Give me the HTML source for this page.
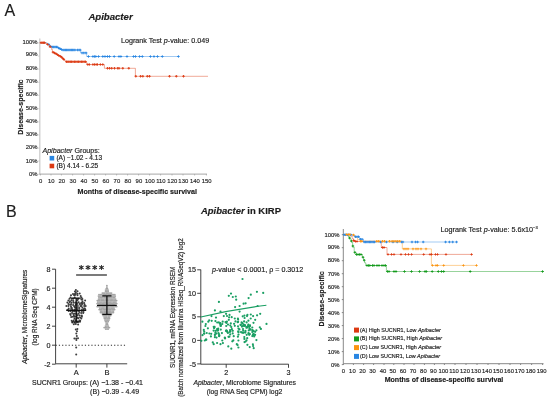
<!DOCTYPE html>
<html lang="en"><head><meta charset="utf-8"><title>Apibacter survival figure</title>
<style>html,body{margin:0;padding:0;background:#fff;}body{width:550px;height:401px;overflow:hidden;}svg{display:block;}text{font-family:"Liberation Sans", Arial, Helvetica, sans-serif;fill:#1c1c1c;stroke:#1c1c1c;stroke-width:0.16px;}.tk{font-size:5.92px;fill:#262626;stroke:#262626;}.b{font-weight:bold;}.i{font-style:italic;}.ax{stroke:#cbcbcb;stroke-width:1.25;fill:none;}.pax{stroke:#2e2e2e;stroke-width:0.9;fill:none;}</style></head><body>
<svg width="550" height="401" viewBox="0 0 550 401">
<rect width="550" height="401" fill="#fff"/>
<text x="4.4" y="15.8" font-size="16" fill="#111">A</text>
<text x="110.5" y="19.8" class="b i" font-size="9.6" text-anchor="middle">Apibacter</text>
<text x="121" y="42.8" font-size="7.17">Logrank Test <tspan class="i">p</tspan>-value: 0.049</text>
<path class="ax" d="M39.8 38.5V174.4"/>
<path d="M39.2 174.1H207" stroke="#a6a6a6" stroke-width="1" fill="none"/>
<path class="ax" d="M39.8 42.8h-1.4"/>
<text x="37.5" y="44.2" class="tk" text-anchor="end" >100%</text>
<path class="ax" d="M39.8 56.0h-1.4"/>
<text x="37.5" y="56.3" class="tk" text-anchor="end" >90%</text>
<path class="ax" d="M39.8 69.1h-1.4"/>
<text x="37.5" y="69.8" class="tk" text-anchor="end" >80%</text>
<path class="ax" d="M39.8 82.3h-1.4"/>
<text x="37.5" y="83.1" class="tk" text-anchor="end" >70%</text>
<path class="ax" d="M39.8 95.4h-1.4"/>
<text x="37.5" y="96.3" class="tk" text-anchor="end" >60%</text>
<path class="ax" d="M39.8 108.6h-1.4"/>
<text x="37.5" y="109.6" class="tk" text-anchor="end" >50%</text>
<path class="ax" d="M39.8 121.8h-1.4"/>
<text x="37.5" y="122.9" class="tk" text-anchor="end" >40%</text>
<path class="ax" d="M39.8 134.9h-1.4"/>
<text x="37.5" y="136.1" class="tk" text-anchor="end" >30%</text>
<path class="ax" d="M39.8 148.1h-1.4"/>
<text x="37.5" y="149.4" class="tk" text-anchor="end" >20%</text>
<path class="ax" d="M39.8 161.2h-1.4"/>
<text x="37.5" y="162.6" class="tk" text-anchor="end" >10%</text>
<path class="ax" d="M39.8 174.4h-1.4"/>
<text x="37.5" y="175.9" class="tk" text-anchor="end" >0%</text>
<path d="M40.4 174.1v1.3" stroke="#a6a6a6" stroke-width="0.9"/>
<text x="40.7" y="182.8" class="tk" text-anchor="middle" >0</text>
<path d="M51.0 174.1v1.3" stroke="#a6a6a6" stroke-width="0.9"/>
<text x="51.3" y="182.8" class="tk" text-anchor="middle" >10</text>
<path d="M61.4 174.1v1.3" stroke="#a6a6a6" stroke-width="0.9"/>
<text x="61.7" y="182.8" class="tk" text-anchor="middle" >20</text>
<path d="M72.6 174.1v1.3" stroke="#a6a6a6" stroke-width="0.9"/>
<text x="72.9" y="182.8" class="tk" text-anchor="middle" >30</text>
<path d="M83.6 174.1v1.3" stroke="#a6a6a6" stroke-width="0.9"/>
<text x="83.9" y="182.8" class="tk" text-anchor="middle" >40</text>
<path d="M94.6 174.1v1.3" stroke="#a6a6a6" stroke-width="0.9"/>
<text x="94.9" y="182.8" class="tk" text-anchor="middle" >50</text>
<path d="M105.6 174.1v1.3" stroke="#a6a6a6" stroke-width="0.9"/>
<text x="105.9" y="182.8" class="tk" text-anchor="middle" >60</text>
<path d="M116.6 174.1v1.3" stroke="#a6a6a6" stroke-width="0.9"/>
<text x="116.9" y="182.8" class="tk" text-anchor="middle" >70</text>
<path d="M127.6 174.1v1.3" stroke="#a6a6a6" stroke-width="0.9"/>
<text x="127.9" y="182.8" class="tk" text-anchor="middle" >80</text>
<path d="M138.6 174.1v1.3" stroke="#a6a6a6" stroke-width="0.9"/>
<text x="138.9" y="182.8" class="tk" text-anchor="middle" >90</text>
<path d="M149.6 174.1v1.3" stroke="#a6a6a6" stroke-width="0.9"/>
<text x="149.9" y="182.8" class="tk" text-anchor="middle" >100</text>
<path d="M160.6 174.1v1.3" stroke="#a6a6a6" stroke-width="0.9"/>
<text x="160.9" y="182.8" class="tk" text-anchor="middle" >110</text>
<path d="M172.0 174.1v1.3" stroke="#a6a6a6" stroke-width="0.9"/>
<text x="172.3" y="182.8" class="tk" text-anchor="middle" >120</text>
<path d="M183.0 174.1v1.3" stroke="#a6a6a6" stroke-width="0.9"/>
<text x="183.3" y="182.8" class="tk" text-anchor="middle" >130</text>
<path d="M194.6 174.1v1.3" stroke="#a6a6a6" stroke-width="0.9"/>
<text x="194.9" y="182.8" class="tk" text-anchor="middle" >140</text>
<path d="M206.4 174.1v1.3" stroke="#a6a6a6" stroke-width="0.9"/>
<text x="206.7" y="182.8" class="tk" text-anchor="middle" >150</text>
<text transform="translate(23.0,107.1) rotate(-90)" class="b" font-size="7.05" text-anchor="middle">Disease-specific</text>
<text x="137.2" y="193.7" class="b" font-size="7.1" text-anchor="middle">Months of disease-specific survival</text>
<text x="42.4" y="152.8" font-size="7.13"><tspan class="i">Apibacter</tspan> Groups:</text>
<rect x="49.6" y="155.9" width="4.6" height="4.6" fill="#2986e2"/>
<text x="56.4" y="160.2" font-size="6.55" >(A) −1.02 - 4.13</text>
<rect x="49.6" y="163.7" width="4.6" height="4.6" fill="#dc3912"/>
<text x="56.4" y="168.1" font-size="6.55" >(B) 4.14 - 6.25</text>
<path d="M40.1 42.8H47.0V43.4H48.2V44.2H49.3V45.2H50.3V46.1H51.3V46.9H57.3V47.5H59.4V48.3H60.8V49.2H62.2V50.0H80.7V52.9H86.7V56.5H178.9V56.5" fill="none" stroke="#2986e2" stroke-width="0.55" stroke-opacity="0.8"/>
<path d="M48.35 43.35L49.25 43.35L49.25 44.15L50.05 44.15L50.05 45.05L49.25 45.05L49.25 45.85L48.35 45.85L48.35 45.05L47.55 45.05L47.55 44.15L48.35 44.15zM47.80 44.60l1.00 -1.00l1.00 1.00l-1.00 1.00zM50.35 45.25L51.25 45.25L51.25 46.05L52.05 46.05L52.05 46.95L51.25 46.95L51.25 47.75L50.35 47.75L50.35 46.95L49.55 46.95L49.55 46.05L50.35 46.05zM49.80 46.50l1.00 -1.00l1.00 1.00l-1.00 1.00zM51.95 45.65L52.85 45.65L52.85 46.45L53.65 46.45L53.65 47.35L52.85 47.35L52.85 48.15L51.95 48.15L51.95 47.35L51.15 47.35L51.15 46.45L51.95 46.45zM51.40 46.90l1.00 -1.00l1.00 1.00l-1.00 1.00zM53.15 45.65L54.05 45.65L54.05 46.45L54.85 46.45L54.85 47.35L54.05 47.35L54.05 48.15L53.15 48.15L53.15 47.35L52.35 47.35L52.35 46.45L53.15 46.45zM52.60 46.90l1.00 -1.00l1.00 1.00l-1.00 1.00zM54.35 45.65L55.25 45.65L55.25 46.45L56.05 46.45L56.05 47.35L55.25 47.35L55.25 48.15L54.35 48.15L54.35 47.35L53.55 47.35L53.55 46.45L54.35 46.45zM53.80 46.90l1.00 -1.00l1.00 1.00l-1.00 1.00zM55.55 45.65L56.45 45.65L56.45 46.45L57.25 46.45L57.25 47.35L56.45 47.35L56.45 48.15L55.55 48.15L55.55 47.35L54.75 47.35L54.75 46.45L55.55 46.45zM55.00 46.90l1.00 -1.00l1.00 1.00l-1.00 1.00zM56.55 45.65L57.45 45.65L57.45 46.45L58.25 46.45L58.25 47.35L57.45 47.35L57.45 48.15L56.55 48.15L56.55 47.35L55.75 47.35L55.75 46.45L56.55 46.45zM56.00 46.90l1.00 -1.00l1.00 1.00l-1.00 1.00zM57.95 46.65L58.85 46.65L58.85 47.45L59.65 47.45L59.65 48.35L58.85 48.35L58.85 49.15L57.95 49.15L57.95 48.35L57.15 48.35L57.15 47.45L57.95 47.45zM57.40 47.90l1.00 -1.00l1.00 1.00l-1.00 1.00zM59.55 47.55L60.45 47.55L60.45 48.35L61.25 48.35L61.25 49.25L60.45 49.25L60.45 50.05L59.55 50.05L59.55 49.25L58.75 49.25L58.75 48.35L59.55 48.35zM59.00 48.80l1.00 -1.00l1.00 1.00l-1.00 1.00zM61.05 48.35L61.95 48.35L61.95 49.15L62.75 49.15L62.75 50.05L61.95 50.05L61.95 50.85L61.05 50.85L61.05 50.05L60.25 50.05L60.25 49.15L61.05 49.15zM60.50 49.60l1.00 -1.00l1.00 1.00l-1.00 1.00zM62.55 48.75L63.45 48.75L63.45 49.55L64.25 49.55L64.25 50.45L63.45 50.45L63.45 51.25L62.55 51.25L62.55 50.45L61.75 50.45L61.75 49.55L62.55 49.55zM62.00 50.00l1.00 -1.00l1.00 1.00l-1.00 1.00zM63.75 48.75L64.65 48.75L64.65 49.55L65.45 49.55L65.45 50.45L64.65 50.45L64.65 51.25L63.75 51.25L63.75 50.45L62.95 50.45L62.95 49.55L63.75 49.55zM63.20 50.00l1.00 -1.00l1.00 1.00l-1.00 1.00zM64.95 48.75L65.85 48.75L65.85 49.55L66.65 49.55L66.65 50.45L65.85 50.45L65.85 51.25L64.95 51.25L64.95 50.45L64.15 50.45L64.15 49.55L64.95 49.55zM64.40 50.00l1.00 -1.00l1.00 1.00l-1.00 1.00zM66.15 48.75L67.05 48.75L67.05 49.55L67.85 49.55L67.85 50.45L67.05 50.45L67.05 51.25L66.15 51.25L66.15 50.45L65.35 50.45L65.35 49.55L66.15 49.55zM65.60 50.00l1.00 -1.00l1.00 1.00l-1.00 1.00zM67.35 48.75L68.25 48.75L68.25 49.55L69.05 49.55L69.05 50.45L68.25 50.45L68.25 51.25L67.35 51.25L67.35 50.45L66.55 50.45L66.55 49.55L67.35 49.55zM66.80 50.00l1.00 -1.00l1.00 1.00l-1.00 1.00zM68.55 48.75L69.45 48.75L69.45 49.55L70.25 49.55L70.25 50.45L69.45 50.45L69.45 51.25L68.55 51.25L68.55 50.45L67.75 50.45L67.75 49.55L68.55 49.55zM68.00 50.00l1.00 -1.00l1.00 1.00l-1.00 1.00zM69.75 48.75L70.65 48.75L70.65 49.55L71.45 49.55L71.45 50.45L70.65 50.45L70.65 51.25L69.75 51.25L69.75 50.45L68.95 50.45L68.95 49.55L69.75 49.55zM69.20 50.00l1.00 -1.00l1.00 1.00l-1.00 1.00zM70.95 48.75L71.85 48.75L71.85 49.55L72.65 49.55L72.65 50.45L71.85 50.45L71.85 51.25L70.95 51.25L70.95 50.45L70.15 50.45L70.15 49.55L70.95 49.55zM70.40 50.00l1.00 -1.00l1.00 1.00l-1.00 1.00zM72.15 48.75L73.05 48.75L73.05 49.55L73.85 49.55L73.85 50.45L73.05 50.45L73.05 51.25L72.15 51.25L72.15 50.45L71.35 50.45L71.35 49.55L72.15 49.55zM71.60 50.00l1.00 -1.00l1.00 1.00l-1.00 1.00zM73.35 48.75L74.25 48.75L74.25 49.55L75.05 49.55L75.05 50.45L74.25 50.45L74.25 51.25L73.35 51.25L73.35 50.45L72.55 50.45L72.55 49.55L73.35 49.55zM72.80 50.00l1.00 -1.00l1.00 1.00l-1.00 1.00zM74.55 48.75L75.45 48.75L75.45 49.55L76.25 49.55L76.25 50.45L75.45 50.45L75.45 51.25L74.55 51.25L74.55 50.45L73.75 50.45L73.75 49.55L74.55 49.55zM74.00 50.00l1.00 -1.00l1.00 1.00l-1.00 1.00zM76.95 48.75L77.85 48.75L77.85 49.55L78.65 49.55L78.65 50.45L77.85 50.45L77.85 51.25L76.95 51.25L76.95 50.45L76.15 50.45L76.15 49.55L76.95 49.55zM76.40 50.00l1.00 -1.00l1.00 1.00l-1.00 1.00zM78.55 48.75L79.45 48.75L79.45 49.55L80.25 49.55L80.25 50.45L79.45 50.45L79.45 51.25L78.55 51.25L78.55 50.45L77.75 50.45L77.75 49.55L78.55 49.55zM78.00 50.00l1.00 -1.00l1.00 1.00l-1.00 1.00zM79.75 48.75L80.65 48.75L80.65 49.55L81.45 49.55L81.45 50.45L80.65 50.45L80.65 51.25L79.75 51.25L79.75 50.45L78.95 50.45L78.95 49.55L79.75 49.55zM79.20 50.00l1.00 -1.00l1.00 1.00l-1.00 1.00zM81.55 51.65L82.45 51.65L82.45 52.45L83.25 52.45L83.25 53.35L82.45 53.35L82.45 54.15L81.55 54.15L81.55 53.35L80.75 53.35L80.75 52.45L81.55 52.45zM81.00 52.90l1.00 -1.00l1.00 1.00l-1.00 1.00zM82.85 51.65L83.75 51.65L83.75 52.45L84.55 52.45L84.55 53.35L83.75 53.35L83.75 54.15L82.85 54.15L82.85 53.35L82.05 53.35L82.05 52.45L82.85 52.45zM82.30 52.90l1.00 -1.00l1.00 1.00l-1.00 1.00zM84.55 51.65L85.45 51.65L85.45 52.45L86.25 52.45L86.25 53.35L85.45 53.35L85.45 54.15L84.55 54.15L84.55 53.35L83.75 53.35L83.75 52.45L84.55 52.45zM84.00 52.90l1.00 -1.00l1.00 1.00l-1.00 1.00zM85.75 51.65L86.65 51.65L86.65 52.45L87.45 52.45L87.45 53.35L86.65 53.35L86.65 54.15L85.75 54.15L85.75 53.35L84.95 53.35L84.95 52.45L85.75 52.45zM85.20 52.90l1.00 -1.00l1.00 1.00l-1.00 1.00zM88.05 55.25L88.95 55.25L88.95 56.05L89.75 56.05L89.75 56.95L88.95 56.95L88.95 57.75L88.05 57.75L88.05 56.95L87.25 56.95L87.25 56.05L88.05 56.05zM87.50 56.50l1.00 -1.00l1.00 1.00l-1.00 1.00zM92.45 55.25L93.35 55.25L93.35 56.05L94.15 56.05L94.15 56.95L93.35 56.95L93.35 57.75L92.45 57.75L92.45 56.95L91.65 56.95L91.65 56.05L92.45 56.05zM91.90 56.50l1.00 -1.00l1.00 1.00l-1.00 1.00zM93.95 55.25L94.85 55.25L94.85 56.05L95.65 56.05L95.65 56.95L94.85 56.95L94.85 57.75L93.95 57.75L93.95 56.95L93.15 56.95L93.15 56.05L93.95 56.05zM93.40 56.50l1.00 -1.00l1.00 1.00l-1.00 1.00zM95.35 55.25L96.25 55.25L96.25 56.05L97.05 56.05L97.05 56.95L96.25 56.95L96.25 57.75L95.35 57.75L95.35 56.95L94.55 56.95L94.55 56.05L95.35 56.05zM94.80 56.50l1.00 -1.00l1.00 1.00l-1.00 1.00zM98.15 55.25L99.05 55.25L99.05 56.05L99.85 56.05L99.85 56.95L99.05 56.95L99.05 57.75L98.15 57.75L98.15 56.95L97.35 56.95L97.35 56.05L98.15 56.05zM97.60 56.50l1.00 -1.00l1.00 1.00l-1.00 1.00zM102.35 55.25L103.25 55.25L103.25 56.05L104.05 56.05L104.05 56.95L103.25 56.95L103.25 57.75L102.35 57.75L102.35 56.95L101.55 56.95L101.55 56.05L102.35 56.05zM101.80 56.50l1.00 -1.00l1.00 1.00l-1.00 1.00zM104.55 55.25L105.45 55.25L105.45 56.05L106.25 56.05L106.25 56.95L105.45 56.95L105.45 57.75L104.55 57.75L104.55 56.95L103.75 56.95L103.75 56.05L104.55 56.05zM104.00 56.50l1.00 -1.00l1.00 1.00l-1.00 1.00zM107.05 55.25L107.95 55.25L107.95 56.05L108.75 56.05L108.75 56.95L107.95 56.95L107.95 57.75L107.05 57.75L107.05 56.95L106.25 56.95L106.25 56.05L107.05 56.05zM106.50 56.50l1.00 -1.00l1.00 1.00l-1.00 1.00zM109.05 55.25L109.95 55.25L109.95 56.05L110.75 56.05L110.75 56.95L109.95 56.95L109.95 57.75L109.05 57.75L109.05 56.95L108.25 56.95L108.25 56.05L109.05 56.05zM108.50 56.50l1.00 -1.00l1.00 1.00l-1.00 1.00zM113.75 55.25L114.65 55.25L114.65 56.05L115.45 56.05L115.45 56.95L114.65 56.95L114.65 57.75L113.75 57.75L113.75 56.95L112.95 56.95L112.95 56.05L113.75 56.05zM113.20 56.50l1.00 -1.00l1.00 1.00l-1.00 1.00zM118.55 55.25L119.45 55.25L119.45 56.05L120.25 56.05L120.25 56.95L119.45 56.95L119.45 57.75L118.55 57.75L118.55 56.95L117.75 56.95L117.75 56.05L118.55 56.05zM118.00 56.50l1.00 -1.00l1.00 1.00l-1.00 1.00zM120.45 55.25L121.35 55.25L121.35 56.05L122.15 56.05L122.15 56.95L121.35 56.95L121.35 57.75L120.45 57.75L120.45 56.95L119.65 56.95L119.65 56.05L120.45 56.05zM119.90 56.50l1.00 -1.00l1.00 1.00l-1.00 1.00zM126.55 55.25L127.45 55.25L127.45 56.05L128.25 56.05L128.25 56.95L127.45 56.95L127.45 57.75L126.55 57.75L126.55 56.95L125.75 56.95L125.75 56.05L126.55 56.05zM126.00 56.50l1.00 -1.00l1.00 1.00l-1.00 1.00zM133.15 55.25L134.05 55.25L134.05 56.05L134.85 56.05L134.85 56.95L134.05 56.95L134.05 57.75L133.15 57.75L133.15 56.95L132.35 56.95L132.35 56.05L133.15 56.05zM132.60 56.50l1.00 -1.00l1.00 1.00l-1.00 1.00zM135.05 55.25L135.95 55.25L135.95 56.05L136.75 56.05L136.75 56.95L135.95 56.95L135.95 57.75L135.05 57.75L135.05 56.95L134.25 56.95L134.25 56.05L135.05 56.05zM134.50 56.50l1.00 -1.00l1.00 1.00l-1.00 1.00zM139.15 55.25L140.05 55.25L140.05 56.05L140.85 56.05L140.85 56.95L140.05 56.95L140.05 57.75L139.15 57.75L139.15 56.95L138.35 56.95L138.35 56.05L139.15 56.05zM138.60 56.50l1.00 -1.00l1.00 1.00l-1.00 1.00zM141.85 55.25L142.75 55.25L142.75 56.05L143.55 56.05L143.55 56.95L142.75 56.95L142.75 57.75L141.85 57.75L141.85 56.95L141.05 56.95L141.05 56.05L141.85 56.05zM141.30 56.50l1.00 -1.00l1.00 1.00l-1.00 1.00zM149.95 55.25L150.85 55.25L150.85 56.05L151.65 56.05L151.65 56.95L150.85 56.95L150.85 57.75L149.95 57.75L149.95 56.95L149.15 56.95L149.15 56.05L149.95 56.05zM149.40 56.50l1.00 -1.00l1.00 1.00l-1.00 1.00zM153.55 55.25L154.45 55.25L154.45 56.05L155.25 56.05L155.25 56.95L154.45 56.95L154.45 57.75L153.55 57.75L153.55 56.95L152.75 56.95L152.75 56.05L153.55 56.05zM153.00 56.50l1.00 -1.00l1.00 1.00l-1.00 1.00zM157.05 55.25L157.95 55.25L157.95 56.05L158.75 56.05L158.75 56.95L157.95 56.95L157.95 57.75L157.05 57.75L157.05 56.95L156.25 56.95L156.25 56.05L157.05 56.05zM156.50 56.50l1.00 -1.00l1.00 1.00l-1.00 1.00zM161.85 55.25L162.75 55.25L162.75 56.05L163.55 56.05L163.55 56.95L162.75 56.95L162.75 57.75L161.85 57.75L161.85 56.95L161.05 56.95L161.05 56.05L161.85 56.05zM161.30 56.50l1.00 -1.00l1.00 1.00l-1.00 1.00zM177.95 55.25L178.85 55.25L178.85 56.05L179.65 56.05L179.65 56.95L178.85 56.95L178.85 57.75L177.95 57.75L177.95 56.95L177.15 56.95L177.15 56.05L177.95 56.05zM177.40 56.50l1.00 -1.00l1.00 1.00l-1.00 1.00z" fill="#2986e2" stroke="none"/>
<path d="M40.1 42.8H45.3V43.3H46.8V44.0H48.0V44.8H49.4V46.0H50.7V47.5H51.6V49.5H52.4V51.8H53.8V52.6H55.1V53.4H56.5V54.2H57.8V55.1H59.5V55.9H61.1V56.7H62.2V57.8H63.3V58.9H64.4V60.4H65.4V61.8H86.7V64.6H104.4V68.3H135.4V76.3H208.0V76.3" fill="none" stroke="#dc3912" stroke-width="0.55" stroke-opacity="0.8"/>
<path d="M40.55 41.55L41.45 41.55L41.45 42.35L42.25 42.35L42.25 43.25L41.45 43.25L41.45 44.05L40.55 44.05L40.55 43.25L39.75 43.25L39.75 42.35L40.55 42.35zM40.00 42.80l1.00 -1.00l1.00 1.00l-1.00 1.00zM41.75 41.55L42.65 41.55L42.65 42.35L43.45 42.35L43.45 43.25L42.65 43.25L42.65 44.05L41.75 44.05L41.75 43.25L40.95 43.25L40.95 42.35L41.75 42.35zM41.20 42.80l1.00 -1.00l1.00 1.00l-1.00 1.00zM42.95 41.55L43.85 41.55L43.85 42.35L44.65 42.35L44.65 43.25L43.85 43.25L43.85 44.05L42.95 44.05L42.95 43.25L42.15 43.25L42.15 42.35L42.95 42.35zM42.40 42.80l1.00 -1.00l1.00 1.00l-1.00 1.00zM44.15 41.55L45.05 41.55L45.05 42.35L45.85 42.35L45.85 43.25L45.05 43.25L45.05 44.05L44.15 44.05L44.15 43.25L43.35 43.25L43.35 42.35L44.15 42.35zM43.60 42.80l1.00 -1.00l1.00 1.00l-1.00 1.00zM46.95 43.15L47.85 43.15L47.85 43.95L48.65 43.95L48.65 44.85L47.85 44.85L47.85 45.65L46.95 45.65L46.95 44.85L46.15 44.85L46.15 43.95L46.95 43.95zM46.40 44.40l1.00 -1.00l1.00 1.00l-1.00 1.00zM49.55 45.45L50.45 45.45L50.45 46.25L51.25 46.25L51.25 47.15L50.45 47.15L50.45 47.95L49.55 47.95L49.55 47.15L48.75 47.15L48.75 46.25L49.55 46.25zM49.00 46.70l1.00 -1.00l1.00 1.00l-1.00 1.00zM52.55 50.95L53.45 50.95L53.45 51.75L54.25 51.75L54.25 52.65L53.45 52.65L53.45 53.45L52.55 53.45L52.55 52.65L51.75 52.65L51.75 51.75L52.55 51.75zM52.00 52.20l1.00 -1.00l1.00 1.00l-1.00 1.00zM54.05 51.75L54.95 51.75L54.95 52.55L55.75 52.55L55.75 53.45L54.95 53.45L54.95 54.25L54.05 54.25L54.05 53.45L53.25 53.45L53.25 52.55L54.05 52.55zM53.50 53.00l1.00 -1.00l1.00 1.00l-1.00 1.00zM55.55 52.55L56.45 52.55L56.45 53.35L57.25 53.35L57.25 54.25L56.45 54.25L56.45 55.05L55.55 55.05L55.55 54.25L54.75 54.25L54.75 53.35L55.55 53.35zM55.00 53.80l1.00 -1.00l1.00 1.00l-1.00 1.00zM56.75 53.35L57.65 53.35L57.65 54.15L58.45 54.15L58.45 55.05L57.65 55.05L57.65 55.85L56.75 55.85L56.75 55.05L55.95 55.05L55.95 54.15L56.75 54.15zM56.20 54.60l1.00 -1.00l1.00 1.00l-1.00 1.00zM58.15 54.25L59.05 54.25L59.05 55.05L59.85 55.05L59.85 55.95L59.05 55.95L59.05 56.75L58.15 56.75L58.15 55.95L57.35 55.95L57.35 55.05L58.15 55.05zM57.60 55.50l1.00 -1.00l1.00 1.00l-1.00 1.00zM59.75 55.05L60.65 55.05L60.65 55.85L61.45 55.85L61.45 56.75L60.65 56.75L60.65 57.55L59.75 57.55L59.75 56.75L58.95 56.75L58.95 55.85L59.75 55.85zM59.20 56.30l1.00 -1.00l1.00 1.00l-1.00 1.00zM61.15 55.95L62.05 55.95L62.05 56.75L62.85 56.75L62.85 57.65L62.05 57.65L62.05 58.45L61.15 58.45L61.15 57.65L60.35 57.65L60.35 56.75L61.15 56.75zM60.60 57.20l1.00 -1.00l1.00 1.00l-1.00 1.00zM62.35 57.15L63.25 57.15L63.25 57.95L64.05 57.95L64.05 58.85L63.25 58.85L63.25 59.65L62.35 59.65L62.35 58.85L61.55 58.85L61.55 57.95L62.35 57.95zM61.80 58.40l1.00 -1.00l1.00 1.00l-1.00 1.00zM63.45 58.35L64.35 58.35L64.35 59.15L65.15 59.15L65.15 60.05L64.35 60.05L64.35 60.85L63.45 60.85L63.45 60.05L62.65 60.05L62.65 59.15L63.45 59.15zM62.90 59.60l1.00 -1.00l1.00 1.00l-1.00 1.00zM66.05 60.55L66.95 60.55L66.95 61.35L67.75 61.35L67.75 62.25L66.95 62.25L66.95 63.05L66.05 63.05L66.05 62.25L65.25 62.25L65.25 61.35L66.05 61.35zM65.50 61.80l1.00 -1.00l1.00 1.00l-1.00 1.00zM67.35 60.55L68.25 60.55L68.25 61.35L69.05 61.35L69.05 62.25L68.25 62.25L68.25 63.05L67.35 63.05L67.35 62.25L66.55 62.25L66.55 61.35L67.35 61.35zM66.80 61.80l1.00 -1.00l1.00 1.00l-1.00 1.00zM68.55 60.55L69.45 60.55L69.45 61.35L70.25 61.35L70.25 62.25L69.45 62.25L69.45 63.05L68.55 63.05L68.55 62.25L67.75 62.25L67.75 61.35L68.55 61.35zM68.00 61.80l1.00 -1.00l1.00 1.00l-1.00 1.00zM69.85 60.55L70.75 60.55L70.75 61.35L71.55 61.35L71.55 62.25L70.75 62.25L70.75 63.05L69.85 63.05L69.85 62.25L69.05 62.25L69.05 61.35L69.85 61.35zM69.30 61.80l1.00 -1.00l1.00 1.00l-1.00 1.00zM71.15 60.55L72.05 60.55L72.05 61.35L72.85 61.35L72.85 62.25L72.05 62.25L72.05 63.05L71.15 63.05L71.15 62.25L70.35 62.25L70.35 61.35L71.15 61.35zM70.60 61.80l1.00 -1.00l1.00 1.00l-1.00 1.00zM72.55 60.55L73.45 60.55L73.45 61.35L74.25 61.35L74.25 62.25L73.45 62.25L73.45 63.05L72.55 63.05L72.55 62.25L71.75 62.25L71.75 61.35L72.55 61.35zM72.00 61.80l1.00 -1.00l1.00 1.00l-1.00 1.00zM73.95 60.55L74.85 60.55L74.85 61.35L75.65 61.35L75.65 62.25L74.85 62.25L74.85 63.05L73.95 63.05L73.95 62.25L73.15 62.25L73.15 61.35L73.95 61.35zM73.40 61.80l1.00 -1.00l1.00 1.00l-1.00 1.00zM75.35 60.55L76.25 60.55L76.25 61.35L77.05 61.35L77.05 62.25L76.25 62.25L76.25 63.05L75.35 63.05L75.35 62.25L74.55 62.25L74.55 61.35L75.35 61.35zM74.80 61.80l1.00 -1.00l1.00 1.00l-1.00 1.00zM76.75 60.55L77.65 60.55L77.65 61.35L78.45 61.35L78.45 62.25L77.65 62.25L77.65 63.05L76.75 63.05L76.75 62.25L75.95 62.25L75.95 61.35L76.75 61.35zM76.20 61.80l1.00 -1.00l1.00 1.00l-1.00 1.00zM78.15 60.55L79.05 60.55L79.05 61.35L79.85 61.35L79.85 62.25L79.05 62.25L79.05 63.05L78.15 63.05L78.15 62.25L77.35 62.25L77.35 61.35L78.15 61.35zM77.60 61.80l1.00 -1.00l1.00 1.00l-1.00 1.00zM79.55 60.55L80.45 60.55L80.45 61.35L81.25 61.35L81.25 62.25L80.45 62.25L80.45 63.05L79.55 63.05L79.55 62.25L78.75 62.25L78.75 61.35L79.55 61.35zM79.00 61.80l1.00 -1.00l1.00 1.00l-1.00 1.00zM80.95 60.55L81.85 60.55L81.85 61.35L82.65 61.35L82.65 62.25L81.85 62.25L81.85 63.05L80.95 63.05L80.95 62.25L80.15 62.25L80.15 61.35L80.95 61.35zM80.40 61.80l1.00 -1.00l1.00 1.00l-1.00 1.00zM82.35 60.55L83.25 60.55L83.25 61.35L84.05 61.35L84.05 62.25L83.25 62.25L83.25 63.05L82.35 63.05L82.35 62.25L81.55 62.25L81.55 61.35L82.35 61.35zM81.80 61.80l1.00 -1.00l1.00 1.00l-1.00 1.00zM83.75 60.55L84.65 60.55L84.65 61.35L85.45 61.35L85.45 62.25L84.65 62.25L84.65 63.05L83.75 63.05L83.75 62.25L82.95 62.25L82.95 61.35L83.75 61.35zM83.20 61.80l1.00 -1.00l1.00 1.00l-1.00 1.00zM85.15 60.55L86.05 60.55L86.05 61.35L86.85 61.35L86.85 62.25L86.05 62.25L86.05 63.05L85.15 63.05L85.15 62.25L84.35 62.25L84.35 61.35L85.15 61.35zM84.60 61.80l1.00 -1.00l1.00 1.00l-1.00 1.00zM87.35 63.35L88.25 63.35L88.25 64.15L89.05 64.15L89.05 65.05L88.25 65.05L88.25 65.85L87.35 65.85L87.35 65.05L86.55 65.05L86.55 64.15L87.35 64.15zM86.80 64.60l1.00 -1.00l1.00 1.00l-1.00 1.00zM88.85 63.35L89.75 63.35L89.75 64.15L90.55 64.15L90.55 65.05L89.75 65.05L89.75 65.85L88.85 65.85L88.85 65.05L88.05 65.05L88.05 64.15L88.85 64.15zM88.30 64.60l1.00 -1.00l1.00 1.00l-1.00 1.00zM92.45 63.35L93.35 63.35L93.35 64.15L94.15 64.15L94.15 65.05L93.35 65.05L93.35 65.85L92.45 65.85L92.45 65.05L91.65 65.05L91.65 64.15L92.45 64.15zM91.90 64.60l1.00 -1.00l1.00 1.00l-1.00 1.00zM93.95 63.35L94.85 63.35L94.85 64.15L95.65 64.15L95.65 65.05L94.85 65.05L94.85 65.85L93.95 65.85L93.95 65.05L93.15 65.05L93.15 64.15L93.95 64.15zM93.40 64.60l1.00 -1.00l1.00 1.00l-1.00 1.00zM95.65 63.35L96.55 63.35L96.55 64.15L97.35 64.15L97.35 65.05L96.55 65.05L96.55 65.85L95.65 65.85L95.65 65.05L94.85 65.05L94.85 64.15L95.65 64.15zM95.10 64.60l1.00 -1.00l1.00 1.00l-1.00 1.00zM96.95 63.35L97.85 63.35L97.85 64.15L98.65 64.15L98.65 65.05L97.85 65.05L97.85 65.85L96.95 65.85L96.95 65.05L96.15 65.05L96.15 64.15L96.95 64.15zM96.40 64.60l1.00 -1.00l1.00 1.00l-1.00 1.00zM99.85 63.35L100.75 63.35L100.75 64.15L101.55 64.15L101.55 65.05L100.75 65.05L100.75 65.85L99.85 65.85L99.85 65.05L99.05 65.05L99.05 64.15L99.85 64.15zM99.30 64.60l1.00 -1.00l1.00 1.00l-1.00 1.00zM102.35 63.35L103.25 63.35L103.25 64.15L104.05 64.15L104.05 65.05L103.25 65.05L103.25 65.85L102.35 65.85L102.35 65.05L101.55 65.05L101.55 64.15L102.35 64.15zM101.80 64.60l1.00 -1.00l1.00 1.00l-1.00 1.00zM107.05 67.05L107.95 67.05L107.95 67.85L108.75 67.85L108.75 68.75L107.95 68.75L107.95 69.55L107.05 69.55L107.05 68.75L106.25 68.75L106.25 67.85L107.05 67.85zM106.50 68.30l1.00 -1.00l1.00 1.00l-1.00 1.00zM109.05 67.05L109.95 67.05L109.95 67.85L110.75 67.85L110.75 68.75L109.95 68.75L109.95 69.55L109.05 69.55L109.05 68.75L108.25 68.75L108.25 67.85L109.05 67.85zM108.50 68.30l1.00 -1.00l1.00 1.00l-1.00 1.00zM111.25 67.05L112.15 67.05L112.15 67.85L112.95 67.85L112.95 68.75L112.15 68.75L112.15 69.55L111.25 69.55L111.25 68.75L110.45 68.75L110.45 67.85L111.25 67.85zM110.70 68.30l1.00 -1.00l1.00 1.00l-1.00 1.00zM114.05 67.05L114.95 67.05L114.95 67.85L115.75 67.85L115.75 68.75L114.95 68.75L114.95 69.55L114.05 69.55L114.05 68.75L113.25 68.75L113.25 67.85L114.05 67.85zM113.50 68.30l1.00 -1.00l1.00 1.00l-1.00 1.00zM117.25 67.05L118.15 67.05L118.15 67.85L118.95 67.85L118.95 68.75L118.15 68.75L118.15 69.55L117.25 69.55L117.25 68.75L116.45 68.75L116.45 67.85L117.25 67.85zM116.70 68.30l1.00 -1.00l1.00 1.00l-1.00 1.00zM118.55 67.05L119.45 67.05L119.45 67.85L120.25 67.85L120.25 68.75L119.45 68.75L119.45 69.55L118.55 69.55L118.55 68.75L117.75 68.75L117.75 67.85L118.55 67.85zM118.00 68.30l1.00 -1.00l1.00 1.00l-1.00 1.00zM122.35 67.05L123.25 67.05L123.25 67.85L124.05 67.85L124.05 68.75L123.25 68.75L123.25 69.55L122.35 69.55L122.35 68.75L121.55 68.75L121.55 67.85L122.35 67.85zM121.80 68.30l1.00 -1.00l1.00 1.00l-1.00 1.00zM128.35 67.05L129.25 67.05L129.25 67.85L130.05 67.85L130.05 68.75L129.25 68.75L129.25 69.55L128.35 69.55L128.35 68.75L127.55 68.75L127.55 67.85L128.35 67.85zM127.80 68.30l1.00 -1.00l1.00 1.00l-1.00 1.00zM135.35 75.05L136.25 75.05L136.25 75.85L137.05 75.85L137.05 76.75L136.25 76.75L136.25 77.55L135.35 77.55L135.35 76.75L134.55 76.75L134.55 75.85L135.35 75.85zM134.80 76.30l1.00 -1.00l1.00 1.00l-1.00 1.00zM140.15 75.05L141.05 75.05L141.05 75.85L141.85 75.85L141.85 76.75L141.05 76.75L141.05 77.55L140.15 77.55L140.15 76.75L139.35 76.75L139.35 75.85L140.15 75.85zM139.60 76.30l1.00 -1.00l1.00 1.00l-1.00 1.00zM142.35 75.05L143.25 75.05L143.25 75.85L144.05 75.85L144.05 76.75L143.25 76.75L143.25 77.55L142.35 77.55L142.35 76.75L141.55 76.75L141.55 75.85L142.35 75.85zM141.80 76.30l1.00 -1.00l1.00 1.00l-1.00 1.00zM146.85 75.05L147.75 75.05L147.75 75.85L148.55 75.85L148.55 76.75L147.75 76.75L147.75 77.55L146.85 77.55L146.85 76.75L146.05 76.75L146.05 75.85L146.85 75.85zM146.30 76.30l1.00 -1.00l1.00 1.00l-1.00 1.00zM149.05 75.05L149.95 75.05L149.95 75.85L150.75 75.85L150.75 76.75L149.95 76.75L149.95 77.55L149.05 77.55L149.05 76.75L148.25 76.75L148.25 75.85L149.05 75.85zM148.50 76.30l1.00 -1.00l1.00 1.00l-1.00 1.00zM169.05 75.05L169.95 75.05L169.95 75.85L170.75 75.85L170.75 76.75L169.95 76.75L169.95 77.55L169.05 77.55L169.05 76.75L168.25 76.75L168.25 75.85L169.05 75.85zM168.50 76.30l1.00 -1.00l1.00 1.00l-1.00 1.00zM175.85 75.05L176.75 75.05L176.75 75.85L177.55 75.85L177.55 76.75L176.75 76.75L176.75 77.55L175.85 77.55L175.85 76.75L175.05 76.75L175.05 75.85L175.85 75.85zM175.30 76.30l1.00 -1.00l1.00 1.00l-1.00 1.00zM183.05 75.05L183.95 75.05L183.95 75.85L184.75 75.85L184.75 76.75L183.95 76.75L183.95 77.55L183.05 77.55L183.05 76.75L182.25 76.75L182.25 75.85L183.05 75.85zM182.50 76.30l1.00 -1.00l1.00 1.00l-1.00 1.00z" fill="#dc3912" stroke="none"/>
<text x="6.1" y="216.6" font-size="16" fill="#111">B</text>
<text x="241.0" y="213.9" class="b" font-size="9.48" text-anchor="middle"><tspan class="i">Apibacter</tspan> in KIRP</text>
<path class="pax" d="M55.6 269.2V363.8H127.2"/>
<path class="pax" d="M55.6 269.2h-3.6"/>
<text x="50.6" y="271.8" font-size="7.2" text-anchor="end" >8</text>
<path class="pax" d="M55.6 288.2h-3.6"/>
<text x="50.6" y="290.8" font-size="7.2" text-anchor="end" >6</text>
<path class="pax" d="M55.6 307.2h-3.6"/>
<text x="50.6" y="309.8" font-size="7.2" text-anchor="end" >4</text>
<path class="pax" d="M55.6 326.2h-3.6"/>
<text x="50.6" y="328.8" font-size="7.2" text-anchor="end" >2</text>
<path class="pax" d="M55.6 345.2h-3.6"/>
<text x="50.6" y="347.8" font-size="7.2" text-anchor="end" >0</text>
<path class="pax" d="M55.6 364.2h-3.6"/>
<text x="50.6" y="366.8" font-size="7.2" text-anchor="end" >-2</text>
<path class="pax" d="M76.2 363.8v3.8"/>
<path class="pax" d="M106.9 363.8v3.8"/>
<text x="76.2" y="375.3" font-size="7.5" text-anchor="middle" >A</text>
<text x="106.9" y="375.3" font-size="7.5" text-anchor="middle" >B</text>
<path d="M55.6 345.2H127" stroke="#2e2e2e" stroke-width="1.15" stroke-dasharray="1.2 2.05" fill="none"/>
<g fill="#a4a4a4"><circle cx="106.9" cy="285.6" r="0.93"/><circle cx="106.9" cy="287.1" r="0.93"/><circle cx="106.3" cy="288.6" r="0.93"/><circle cx="107.4" cy="288.6" r="0.93"/><circle cx="105.6" cy="290.1" r="0.93"/><circle cx="106.9" cy="290.1" r="0.93"/><circle cx="108.1" cy="290.1" r="0.93"/><circle cx="105.6" cy="291.6" r="0.93"/><circle cx="106.8" cy="291.6" r="0.93"/><circle cx="108.1" cy="291.6" r="0.93"/><circle cx="102.4" cy="293.1" r="0.93"/><circle cx="103.7" cy="293.1" r="0.93"/><circle cx="104.8" cy="293.1" r="0.93"/><circle cx="106.3" cy="293.1" r="0.93"/><circle cx="107.6" cy="293.1" r="0.93"/><circle cx="108.9" cy="293.1" r="0.93"/><circle cx="110.2" cy="293.1" r="0.93"/><circle cx="111.5" cy="293.1" r="0.93"/><circle cx="99.0" cy="294.6" r="0.93"/><circle cx="100.3" cy="294.6" r="0.93"/><circle cx="101.7" cy="294.6" r="0.93"/><circle cx="103.1" cy="294.6" r="0.93"/><circle cx="104.3" cy="294.6" r="0.93"/><circle cx="105.7" cy="294.6" r="0.93"/><circle cx="106.9" cy="294.6" r="0.93"/><circle cx="108.2" cy="294.6" r="0.93"/><circle cx="109.4" cy="294.6" r="0.93"/><circle cx="110.7" cy="294.6" r="0.93"/><circle cx="112.0" cy="294.6" r="0.93"/><circle cx="113.3" cy="294.6" r="0.93"/><circle cx="114.8" cy="294.6" r="0.93"/><circle cx="98.5" cy="296.1" r="0.93"/><circle cx="99.8" cy="296.1" r="0.93"/><circle cx="101.0" cy="296.1" r="0.93"/><circle cx="102.3" cy="296.1" r="0.93"/><circle cx="103.6" cy="296.1" r="0.93"/><circle cx="104.9" cy="296.1" r="0.93"/><circle cx="106.2" cy="296.1" r="0.93"/><circle cx="107.6" cy="296.1" r="0.93"/><circle cx="108.9" cy="296.1" r="0.93"/><circle cx="110.2" cy="296.1" r="0.93"/><circle cx="111.4" cy="296.1" r="0.93"/><circle cx="112.8" cy="296.1" r="0.93"/><circle cx="114.0" cy="296.1" r="0.93"/><circle cx="115.2" cy="296.1" r="0.93"/><circle cx="99.0" cy="297.6" r="0.93"/><circle cx="100.5" cy="297.6" r="0.93"/><circle cx="101.6" cy="297.6" r="0.93"/><circle cx="102.9" cy="297.6" r="0.93"/><circle cx="104.3" cy="297.6" r="0.93"/><circle cx="105.5" cy="297.6" r="0.93"/><circle cx="107.0" cy="297.6" r="0.93"/><circle cx="108.3" cy="297.6" r="0.93"/><circle cx="109.5" cy="297.6" r="0.93"/><circle cx="110.9" cy="297.6" r="0.93"/><circle cx="112.0" cy="297.6" r="0.93"/><circle cx="113.5" cy="297.6" r="0.93"/><circle cx="114.7" cy="297.6" r="0.93"/><circle cx="98.6" cy="299.1" r="0.93"/><circle cx="99.8" cy="299.1" r="0.93"/><circle cx="101.1" cy="299.1" r="0.93"/><circle cx="102.2" cy="299.1" r="0.93"/><circle cx="103.7" cy="299.1" r="0.93"/><circle cx="105.1" cy="299.1" r="0.93"/><circle cx="106.2" cy="299.1" r="0.93"/><circle cx="107.5" cy="299.1" r="0.93"/><circle cx="108.9" cy="299.1" r="0.93"/><circle cx="110.2" cy="299.1" r="0.93"/><circle cx="111.5" cy="299.1" r="0.93"/><circle cx="112.8" cy="299.1" r="0.93"/><circle cx="114.1" cy="299.1" r="0.93"/><circle cx="115.5" cy="299.1" r="0.93"/><circle cx="97.3" cy="300.6" r="0.93"/><circle cx="98.4" cy="300.6" r="0.93"/><circle cx="99.8" cy="300.6" r="0.93"/><circle cx="101.2" cy="300.6" r="0.93"/><circle cx="102.4" cy="300.6" r="0.93"/><circle cx="103.8" cy="300.6" r="0.93"/><circle cx="105.1" cy="300.6" r="0.93"/><circle cx="106.3" cy="300.6" r="0.93"/><circle cx="107.5" cy="300.6" r="0.93"/><circle cx="108.8" cy="300.6" r="0.93"/><circle cx="110.2" cy="300.6" r="0.93"/><circle cx="111.5" cy="300.6" r="0.93"/><circle cx="112.9" cy="300.6" r="0.93"/><circle cx="114.1" cy="300.6" r="0.93"/><circle cx="115.3" cy="300.6" r="0.93"/><circle cx="116.6" cy="300.6" r="0.93"/><circle cx="97.8" cy="302.1" r="0.93"/><circle cx="99.1" cy="302.1" r="0.93"/><circle cx="100.4" cy="302.1" r="0.93"/><circle cx="101.8" cy="302.1" r="0.93"/><circle cx="103.1" cy="302.1" r="0.93"/><circle cx="104.3" cy="302.1" r="0.93"/><circle cx="105.6" cy="302.1" r="0.93"/><circle cx="106.9" cy="302.1" r="0.93"/><circle cx="108.3" cy="302.1" r="0.93"/><circle cx="109.5" cy="302.1" r="0.93"/><circle cx="110.7" cy="302.1" r="0.93"/><circle cx="112.0" cy="302.1" r="0.93"/><circle cx="113.4" cy="302.1" r="0.93"/><circle cx="114.6" cy="302.1" r="0.93"/><circle cx="115.9" cy="302.1" r="0.93"/><circle cx="97.1" cy="303.6" r="0.93"/><circle cx="98.4" cy="303.6" r="0.93"/><circle cx="99.7" cy="303.6" r="0.93"/><circle cx="101.0" cy="303.6" r="0.93"/><circle cx="102.4" cy="303.6" r="0.93"/><circle cx="103.6" cy="303.6" r="0.93"/><circle cx="105.0" cy="303.6" r="0.93"/><circle cx="106.4" cy="303.6" r="0.93"/><circle cx="107.5" cy="303.6" r="0.93"/><circle cx="108.9" cy="303.6" r="0.93"/><circle cx="110.1" cy="303.6" r="0.93"/><circle cx="111.4" cy="303.6" r="0.93"/><circle cx="112.8" cy="303.6" r="0.93"/><circle cx="113.9" cy="303.6" r="0.93"/><circle cx="115.2" cy="303.6" r="0.93"/><circle cx="116.7" cy="303.6" r="0.93"/><circle cx="99.0" cy="305.1" r="0.93"/><circle cx="100.4" cy="305.1" r="0.93"/><circle cx="101.6" cy="305.1" r="0.93"/><circle cx="102.9" cy="305.1" r="0.93"/><circle cx="104.2" cy="305.1" r="0.93"/><circle cx="105.6" cy="305.1" r="0.93"/><circle cx="106.9" cy="305.1" r="0.93"/><circle cx="108.1" cy="305.1" r="0.93"/><circle cx="109.6" cy="305.1" r="0.93"/><circle cx="110.8" cy="305.1" r="0.93"/><circle cx="112.2" cy="305.1" r="0.93"/><circle cx="113.5" cy="305.1" r="0.93"/><circle cx="114.7" cy="305.1" r="0.93"/><circle cx="97.2" cy="306.6" r="0.93"/><circle cx="98.4" cy="306.6" r="0.93"/><circle cx="99.7" cy="306.6" r="0.93"/><circle cx="101.0" cy="306.6" r="0.93"/><circle cx="102.4" cy="306.6" r="0.93"/><circle cx="103.6" cy="306.6" r="0.93"/><circle cx="104.9" cy="306.6" r="0.93"/><circle cx="106.2" cy="306.6" r="0.93"/><circle cx="107.6" cy="306.6" r="0.93"/><circle cx="108.8" cy="306.6" r="0.93"/><circle cx="110.1" cy="306.6" r="0.93"/><circle cx="111.4" cy="306.6" r="0.93"/><circle cx="112.7" cy="306.6" r="0.93"/><circle cx="113.9" cy="306.6" r="0.93"/><circle cx="115.3" cy="306.6" r="0.93"/><circle cx="116.7" cy="306.6" r="0.93"/><circle cx="99.8" cy="308.1" r="0.93"/><circle cx="101.2" cy="308.1" r="0.93"/><circle cx="102.4" cy="308.1" r="0.93"/><circle cx="103.7" cy="308.1" r="0.93"/><circle cx="105.0" cy="308.1" r="0.93"/><circle cx="106.3" cy="308.1" r="0.93"/><circle cx="107.6" cy="308.1" r="0.93"/><circle cx="108.9" cy="308.1" r="0.93"/><circle cx="110.0" cy="308.1" r="0.93"/><circle cx="111.4" cy="308.1" r="0.93"/><circle cx="112.8" cy="308.1" r="0.93"/><circle cx="114.0" cy="308.1" r="0.93"/><circle cx="99.2" cy="309.6" r="0.93"/><circle cx="100.4" cy="309.6" r="0.93"/><circle cx="101.6" cy="309.6" r="0.93"/><circle cx="103.1" cy="309.6" r="0.93"/><circle cx="104.4" cy="309.6" r="0.93"/><circle cx="105.6" cy="309.6" r="0.93"/><circle cx="106.9" cy="309.6" r="0.93"/><circle cx="108.1" cy="309.6" r="0.93"/><circle cx="109.5" cy="309.6" r="0.93"/><circle cx="110.7" cy="309.6" r="0.93"/><circle cx="112.1" cy="309.6" r="0.93"/><circle cx="113.4" cy="309.6" r="0.93"/><circle cx="114.6" cy="309.6" r="0.93"/><circle cx="100.5" cy="311.1" r="0.93"/><circle cx="101.7" cy="311.1" r="0.93"/><circle cx="103.0" cy="311.1" r="0.93"/><circle cx="104.4" cy="311.1" r="0.93"/><circle cx="105.5" cy="311.1" r="0.93"/><circle cx="106.8" cy="311.1" r="0.93"/><circle cx="108.3" cy="311.1" r="0.93"/><circle cx="109.6" cy="311.1" r="0.93"/><circle cx="110.7" cy="311.1" r="0.93"/><circle cx="112.1" cy="311.1" r="0.93"/><circle cx="113.4" cy="311.1" r="0.93"/><circle cx="100.5" cy="312.6" r="0.93"/><circle cx="101.8" cy="312.6" r="0.93"/><circle cx="102.9" cy="312.6" r="0.93"/><circle cx="104.4" cy="312.6" r="0.93"/><circle cx="105.6" cy="312.6" r="0.93"/><circle cx="106.8" cy="312.6" r="0.93"/><circle cx="108.3" cy="312.6" r="0.93"/><circle cx="109.5" cy="312.6" r="0.93"/><circle cx="110.9" cy="312.6" r="0.93"/><circle cx="112.1" cy="312.6" r="0.93"/><circle cx="113.4" cy="312.6" r="0.93"/><circle cx="102.4" cy="314.1" r="0.93"/><circle cx="103.7" cy="314.1" r="0.93"/><circle cx="105.1" cy="314.1" r="0.93"/><circle cx="106.2" cy="314.1" r="0.93"/><circle cx="107.7" cy="314.1" r="0.93"/><circle cx="108.8" cy="314.1" r="0.93"/><circle cx="110.1" cy="314.1" r="0.93"/><circle cx="111.5" cy="314.1" r="0.93"/><circle cx="103.1" cy="315.6" r="0.93"/><circle cx="104.2" cy="315.6" r="0.93"/><circle cx="105.6" cy="315.6" r="0.93"/><circle cx="106.8" cy="315.6" r="0.93"/><circle cx="108.3" cy="315.6" r="0.93"/><circle cx="109.5" cy="315.6" r="0.93"/><circle cx="110.7" cy="315.6" r="0.93"/><circle cx="104.2" cy="317.1" r="0.93"/><circle cx="105.7" cy="317.1" r="0.93"/><circle cx="106.8" cy="317.1" r="0.93"/><circle cx="108.3" cy="317.1" r="0.93"/><circle cx="109.4" cy="317.1" r="0.93"/><circle cx="104.4" cy="318.6" r="0.93"/><circle cx="105.5" cy="318.6" r="0.93"/><circle cx="107.0" cy="318.6" r="0.93"/><circle cx="108.1" cy="318.6" r="0.93"/><circle cx="109.5" cy="318.6" r="0.93"/><circle cx="105.0" cy="320.1" r="0.93"/><circle cx="106.2" cy="320.1" r="0.93"/><circle cx="107.6" cy="320.1" r="0.93"/><circle cx="108.9" cy="320.1" r="0.93"/><circle cx="105.5" cy="321.6" r="0.93"/><circle cx="106.8" cy="321.6" r="0.93"/><circle cx="108.2" cy="321.6" r="0.93"/><circle cx="106.2" cy="323.1" r="0.93"/><circle cx="107.4" cy="323.1" r="0.93"/><circle cx="106.2" cy="324.6" r="0.93"/><circle cx="107.6" cy="324.6" r="0.93"/><circle cx="105.5" cy="326.1" r="0.93"/><circle cx="106.9" cy="326.1" r="0.93"/><circle cx="108.2" cy="326.1" r="0.93"/><circle cx="104.2" cy="327.6" r="0.93"/><circle cx="105.5" cy="327.6" r="0.93"/><circle cx="106.9" cy="327.6" r="0.93"/><circle cx="108.3" cy="327.6" r="0.93"/><circle cx="109.4" cy="327.6" r="0.93"/><circle cx="105.7" cy="329.1" r="0.93"/><circle cx="107.0" cy="329.1" r="0.93"/><circle cx="108.2" cy="329.1" r="0.93"/></g>
<g fill="#3a3a3a"><circle cx="75.9" cy="289.9" r="1.0"/><circle cx="74.9" cy="291.4" r="1.0"/><circle cx="75.9" cy="292.3" r="1.0"/><circle cx="77.5" cy="291.3" r="1.0"/><circle cx="73.0" cy="294.0" r="1.0"/><circle cx="74.9" cy="294.1" r="1.0"/><circle cx="75.8" cy="294.1" r="1.0"/><circle cx="77.5" cy="293.8" r="1.0"/><circle cx="79.7" cy="293.4" r="1.0"/><circle cx="71.0" cy="295.2" r="1.0"/><circle cx="74.0" cy="295.0" r="1.0"/><circle cx="74.9" cy="295.2" r="1.0"/><circle cx="77.5" cy="295.3" r="1.0"/><circle cx="80.7" cy="295.9" r="1.0"/><circle cx="70.5" cy="297.6" r="1.0"/><circle cx="74.7" cy="297.5" r="1.0"/><circle cx="81.5" cy="297.5" r="1.0"/><circle cx="69.5" cy="298.7" r="1.0"/><circle cx="71.7" cy="298.7" r="1.0"/><circle cx="73.2" cy="298.8" r="1.0"/><circle cx="77.6" cy="299.1" r="1.0"/><circle cx="78.4" cy="298.7" r="1.0"/><circle cx="81.4" cy="299.5" r="1.0"/><circle cx="82.4" cy="298.9" r="1.0"/><circle cx="68.4" cy="300.5" r="1.0"/><circle cx="70.0" cy="301.2" r="1.0"/><circle cx="71.7" cy="300.6" r="1.0"/><circle cx="73.3" cy="301.1" r="1.0"/><circle cx="77.4" cy="300.5" r="1.0"/><circle cx="82.5" cy="301.3" r="1.0"/><circle cx="85.1" cy="300.5" r="1.0"/><circle cx="67.4" cy="302.6" r="1.0"/><circle cx="69.7" cy="302.3" r="1.0"/><circle cx="71.7" cy="302.8" r="1.0"/><circle cx="73.8" cy="302.8" r="1.0"/><circle cx="75.7" cy="302.4" r="1.0"/><circle cx="77.0" cy="302.9" r="1.0"/><circle cx="78.7" cy="302.3" r="1.0"/><circle cx="81.3" cy="302.7" r="1.0"/><circle cx="82.6" cy="303.1" r="1.0"/><circle cx="84.2" cy="302.9" r="1.0"/><circle cx="68.5" cy="304.0" r="1.0"/><circle cx="70.1" cy="304.8" r="1.0"/><circle cx="71.0" cy="304.2" r="1.0"/><circle cx="73.1" cy="304.9" r="1.0"/><circle cx="75.8" cy="304.3" r="1.0"/><circle cx="77.1" cy="304.1" r="1.0"/><circle cx="79.5" cy="304.0" r="1.0"/><circle cx="81.0" cy="304.1" r="1.0"/><circle cx="82.2" cy="304.1" r="1.0"/><circle cx="84.6" cy="304.6" r="1.0"/><circle cx="66.4" cy="306.0" r="1.0"/><circle cx="68.4" cy="306.0" r="1.0"/><circle cx="71.0" cy="306.3" r="1.0"/><circle cx="74.2" cy="306.3" r="1.0"/><circle cx="75.7" cy="305.8" r="1.0"/><circle cx="77.9" cy="306.0" r="1.0"/><circle cx="80.4" cy="306.0" r="1.0"/><circle cx="81.6" cy="306.1" r="1.0"/><circle cx="84.2" cy="306.1" r="1.0"/><circle cx="85.7" cy="305.9" r="1.0"/><circle cx="68.7" cy="308.4" r="1.0"/><circle cx="71.1" cy="308.0" r="1.0"/><circle cx="71.9" cy="308.1" r="1.0"/><circle cx="74.8" cy="307.5" r="1.0"/><circle cx="76.0" cy="308.0" r="1.0"/><circle cx="77.8" cy="308.0" r="1.0"/><circle cx="79.4" cy="308.0" r="1.0"/><circle cx="82.3" cy="307.7" r="1.0"/><circle cx="84.1" cy="308.5" r="1.0"/><circle cx="84.9" cy="308.5" r="1.0"/><circle cx="67.4" cy="309.9" r="1.0"/><circle cx="68.4" cy="310.1" r="1.0"/><circle cx="70.5" cy="310.2" r="1.0"/><circle cx="72.1" cy="309.5" r="1.0"/><circle cx="74.4" cy="309.7" r="1.0"/><circle cx="75.9" cy="310.0" r="1.0"/><circle cx="77.5" cy="309.9" r="1.0"/><circle cx="79.3" cy="310.2" r="1.0"/><circle cx="81.9" cy="309.9" r="1.0"/><circle cx="83.4" cy="309.7" r="1.0"/><circle cx="85.4" cy="310.0" r="1.0"/><circle cx="68.7" cy="311.1" r="1.0"/><circle cx="70.6" cy="311.3" r="1.0"/><circle cx="72.8" cy="311.6" r="1.0"/><circle cx="74.3" cy="311.2" r="1.0"/><circle cx="76.1" cy="311.2" r="1.0"/><circle cx="78.1" cy="311.1" r="1.0"/><circle cx="79.4" cy="311.9" r="1.0"/><circle cx="81.8" cy="311.1" r="1.0"/><circle cx="83.5" cy="312.1" r="1.0"/><circle cx="70.2" cy="313.9" r="1.0"/><circle cx="72.0" cy="313.1" r="1.0"/><circle cx="73.4" cy="313.9" r="1.0"/><circle cx="74.9" cy="313.7" r="1.0"/><circle cx="76.6" cy="313.2" r="1.0"/><circle cx="78.6" cy="313.8" r="1.0"/><circle cx="81.2" cy="313.0" r="1.0"/><circle cx="83.2" cy="313.1" r="1.0"/><circle cx="70.7" cy="315.0" r="1.0"/><circle cx="73.9" cy="315.7" r="1.0"/><circle cx="76.7" cy="314.8" r="1.0"/><circle cx="77.6" cy="315.2" r="1.0"/><circle cx="79.7" cy="315.6" r="1.0"/><circle cx="81.8" cy="315.6" r="1.0"/><circle cx="71.2" cy="317.1" r="1.0"/><circle cx="72.9" cy="316.7" r="1.0"/><circle cx="74.4" cy="316.8" r="1.0"/><circle cx="76.1" cy="316.6" r="1.0"/><circle cx="77.5" cy="317.4" r="1.0"/><circle cx="80.1" cy="317.5" r="1.0"/><circle cx="81.9" cy="316.8" r="1.0"/><circle cx="74.5" cy="318.7" r="1.0"/><circle cx="76.7" cy="318.4" r="1.0"/><circle cx="78.2" cy="318.3" r="1.0"/><circle cx="81.3" cy="318.6" r="1.0"/><circle cx="71.7" cy="320.7" r="1.0"/><circle cx="73.6" cy="320.6" r="1.0"/><circle cx="75.8" cy="320.3" r="1.0"/><circle cx="76.6" cy="320.8" r="1.0"/><circle cx="79.3" cy="320.5" r="1.0"/><circle cx="80.2" cy="320.8" r="1.0"/><circle cx="72.3" cy="322.6" r="1.0"/><circle cx="74.9" cy="322.7" r="1.0"/><circle cx="76.7" cy="321.9" r="1.0"/><circle cx="77.9" cy="322.1" r="1.0"/><circle cx="73.8" cy="324.3" r="1.0"/><circle cx="75.8" cy="323.9" r="1.0"/><circle cx="78.1" cy="324.4" r="1.0"/></g>
<g fill="#3e3e3e"><circle cx="77.4" cy="329.0" r="1.0"/><circle cx="75.8" cy="329.4" r="1.0"/><circle cx="77.0" cy="331.3" r="1.0"/><circle cx="76.3" cy="333.6" r="1.0"/><circle cx="76.8" cy="336.0" r="1.0"/><circle cx="74.4" cy="338.4" r="1.0"/><circle cx="76.2" cy="338.6" r="1.0"/><circle cx="78.0" cy="338.2" r="1.0"/><circle cx="76.4" cy="340.0" r="1.0"/><circle cx="76.2" cy="347.5" r="1.0"/><circle cx="76.2" cy="354.6" r="1.0"/></g>
<path d="M66.3 310.3H86.1M76.2 298.2V321.9M71.6 298.2H80.8M71.6 321.9H80.8" stroke="#111" stroke-width="1.3" fill="none"/>
<path d="M97.0 305.4H116.8M106.9 295.8V314.4M102.3 295.8H111.5M102.3 314.4H111.5" stroke="#111" stroke-width="1.3" fill="none"/>
<path d="M76.1 275.0H106.9" stroke="#5a5a5a" stroke-width="1.6"/>
<text x="92.2" y="273.1" stroke="#222" stroke-width="0.35" style="font-family:'DejaVu Sans',sans-serif" font-weight="bold" font-size="9.6" text-anchor="middle" letter-spacing="1.75" fill="#222">****</text>
<text transform="translate(27.4,316.8) rotate(-90)" font-size="6.4" text-anchor="middle"><tspan class="i">Apibacter</tspan>, MicrobiomeSignatures</text>
<text transform="translate(36.5,316.85) rotate(-90)" font-size="6.44" text-anchor="middle">(log RNA Seq CPM)</text>
<text x="32.0" y="384.9" font-size="7.04" >SUCNR1 Groups: (A) −1.38 - −0.41</text>
<text x="90.1" y="393.6" font-size="7.04" >(B) −0.39 - 4.49</text>
<path class="pax" d="M200.8 269.6V364.2H288.6"/>
<path class="pax" d="M200.8 269.8h-3.6"/>
<text x="196.0" y="272.3" font-size="7.2" text-anchor="end" >15</text>
<path class="pax" d="M200.8 293.3h-3.6"/>
<text x="196.0" y="295.8" font-size="7.2" text-anchor="end" >10</text>
<path class="pax" d="M200.8 316.8h-3.6"/>
<text x="196.0" y="319.4" font-size="7.2" text-anchor="end" >5</text>
<path class="pax" d="M200.8 340.4h-3.6"/>
<text x="196.0" y="342.9" font-size="7.2" text-anchor="end" >0</text>
<path class="pax" d="M200.8 363.9h-3.6"/>
<text x="196.0" y="366.5" font-size="7.2" text-anchor="end" >-5</text>
<path class="pax" d="M226.2 364.2v3.6"/>
<text x="226.2" y="374.7" font-size="7.2" text-anchor="middle" >2</text>
<path class="pax" d="M288.5 364.2v3.6"/>
<text x="288.5" y="374.7" font-size="7.2" text-anchor="middle" >3</text>

<g fill="#1a9f63"><circle cx="242.5" cy="279.0" r="1.1"/><circle cx="256.9" cy="291.8" r="1.1"/><circle cx="263.2" cy="292.9" r="1.1"/><circle cx="250.8" cy="294.7" r="1.1"/><circle cx="231.0" cy="293.6" r="1.1"/><circle cx="228.8" cy="295.8" r="1.1"/><circle cx="232.8" cy="297.0" r="1.1"/><circle cx="235.8" cy="296.5" r="1.1"/><circle cx="236.2" cy="299.7" r="1.1"/><circle cx="248.6" cy="298.1" r="1.1"/><circle cx="218.9" cy="301.9" r="1.1"/><circle cx="245.6" cy="303.3" r="1.1"/><circle cx="243.6" cy="303.7" r="1.1"/><circle cx="239.6" cy="306.0" r="1.1"/><circle cx="257.6" cy="306.0" r="1.1"/><circle cx="235.1" cy="307.1" r="1.1"/><circle cx="214.9" cy="310.4" r="1.1"/><circle cx="220.5" cy="311.6" r="1.1"/><circle cx="226.1" cy="313.8" r="1.1"/><circle cx="239.6" cy="311.6" r="1.1"/><circle cx="247.4" cy="314.9" r="1.1"/><circle cx="250.8" cy="314.5" r="1.1"/><circle cx="253.1" cy="316.1" r="1.1"/><circle cx="260.2" cy="313.8" r="1.1"/><circle cx="211.5" cy="316.1" r="1.1"/><circle cx="216.0" cy="317.6" r="1.1"/><circle cx="266.5" cy="323.9" r="1.1"/><circle cx="259.8" cy="327.3" r="1.1"/><circle cx="260.9" cy="328.9" r="1.1"/><circle cx="202.5" cy="335.2" r="1.1"/><circle cx="201.4" cy="340.8" r="1.1"/><circle cx="205.9" cy="339.7" r="1.1"/><circle cx="213.7" cy="344.2" r="1.1"/><circle cx="217.1" cy="343.0" r="1.1"/><circle cx="228.3" cy="346.4" r="1.1"/><circle cx="231.3" cy="348.7" r="1.1"/><circle cx="238.4" cy="347.5" r="1.1"/><circle cx="249.7" cy="347.1" r="1.1"/><circle cx="253.1" cy="346.0" r="1.1"/><circle cx="253.7" cy="348.2" r="1.1"/><circle cx="256.4" cy="340.1" r="1.1"/><circle cx="220.5" cy="344.2" r="1.1"/><circle cx="223.8" cy="316.1" r="1.1"/><circle cx="231.7" cy="317.2" r="1.1"/><circle cx="229.5" cy="314.9" r="1.1"/><circle cx="248.5" cy="333.2" r="1.1"/><circle cx="219.2" cy="336.1" r="1.1"/><circle cx="204.8" cy="340.5" r="1.1"/><circle cx="202.4" cy="321.7" r="1.1"/><circle cx="244.6" cy="318.0" r="1.1"/><circle cx="227.9" cy="332.9" r="1.1"/><circle cx="214.9" cy="334.6" r="1.1"/><circle cx="204.3" cy="333.6" r="1.1"/><circle cx="244.8" cy="325.2" r="1.1"/><circle cx="242.7" cy="316.3" r="1.1"/><circle cx="217.2" cy="322.5" r="1.1"/><circle cx="247.0" cy="327.5" r="1.1"/><circle cx="231.9" cy="329.2" r="1.1"/><circle cx="252.3" cy="336.1" r="1.1"/><circle cx="215.5" cy="330.8" r="1.1"/><circle cx="244.5" cy="342.1" r="1.1"/><circle cx="220.7" cy="325.9" r="1.1"/><circle cx="252.3" cy="327.5" r="1.1"/><circle cx="253.8" cy="335.2" r="1.1"/><circle cx="238.0" cy="326.3" r="1.1"/><circle cx="250.0" cy="325.3" r="1.1"/><circle cx="227.0" cy="316.0" r="1.1"/><circle cx="243.4" cy="324.3" r="1.1"/><circle cx="214.1" cy="327.4" r="1.1"/><circle cx="237.6" cy="345.1" r="1.1"/><circle cx="241.6" cy="322.4" r="1.1"/><circle cx="244.1" cy="321.4" r="1.1"/><circle cx="205.8" cy="324.1" r="1.1"/><circle cx="248.8" cy="326.3" r="1.1"/><circle cx="252.9" cy="344.3" r="1.1"/><circle cx="254.2" cy="336.4" r="1.1"/><circle cx="204.0" cy="333.5" r="1.1"/><circle cx="248.4" cy="320.7" r="1.1"/><circle cx="238.1" cy="319.6" r="1.1"/><circle cx="218.4" cy="333.0" r="1.1"/><circle cx="245.3" cy="332.3" r="1.1"/><circle cx="213.7" cy="326.8" r="1.1"/><circle cx="218.2" cy="328.7" r="1.1"/><circle cx="220.4" cy="323.1" r="1.1"/><circle cx="257.1" cy="315.3" r="1.1"/><circle cx="203.8" cy="329.9" r="1.1"/><circle cx="227.0" cy="331.2" r="1.1"/><circle cx="242.3" cy="323.2" r="1.1"/><circle cx="232.7" cy="333.4" r="1.1"/><circle cx="248.8" cy="330.4" r="1.1"/><circle cx="213.6" cy="330.6" r="1.1"/><circle cx="245.5" cy="330.9" r="1.1"/><circle cx="230.1" cy="330.1" r="1.1"/><circle cx="230.1" cy="331.6" r="1.1"/><circle cx="230.3" cy="325.6" r="1.1"/><circle cx="221.9" cy="333.1" r="1.1"/><circle cx="214.3" cy="327.4" r="1.1"/><circle cx="208.3" cy="321.7" r="1.1"/><circle cx="206.7" cy="333.0" r="1.1"/><circle cx="237.9" cy="318.7" r="1.1"/><circle cx="222.3" cy="324.0" r="1.1"/><circle cx="252.9" cy="334.7" r="1.1"/><circle cx="217.1" cy="329.1" r="1.1"/><circle cx="253.5" cy="322.8" r="1.1"/><circle cx="252.5" cy="330.2" r="1.1"/><circle cx="215.4" cy="321.1" r="1.1"/><circle cx="245.1" cy="332.5" r="1.1"/><circle cx="245.0" cy="325.9" r="1.1"/><circle cx="220.7" cy="324.6" r="1.1"/><circle cx="210.9" cy="336.4" r="1.1"/><circle cx="211.7" cy="320.8" r="1.1"/><circle cx="227.1" cy="331.7" r="1.1"/><circle cx="209.2" cy="320.3" r="1.1"/><circle cx="252.6" cy="330.6" r="1.1"/><circle cx="219.3" cy="335.2" r="1.1"/><circle cx="242.2" cy="332.7" r="1.1"/><circle cx="220.7" cy="325.7" r="1.1"/><circle cx="220.8" cy="329.6" r="1.1"/><circle cx="212.8" cy="342.4" r="1.1"/><circle cx="207.9" cy="328.3" r="1.1"/><circle cx="247.4" cy="344.8" r="1.1"/><circle cx="243.9" cy="325.6" r="1.1"/><circle cx="238.5" cy="332.2" r="1.1"/><circle cx="224.8" cy="337.5" r="1.1"/><circle cx="247.2" cy="327.1" r="1.1"/><circle cx="238.1" cy="321.8" r="1.1"/><circle cx="228.5" cy="336.8" r="1.1"/><circle cx="225.1" cy="338.3" r="1.1"/><circle cx="244.3" cy="337.0" r="1.1"/><circle cx="234.8" cy="325.8" r="1.1"/><circle cx="244.8" cy="325.4" r="1.1"/><circle cx="243.3" cy="332.8" r="1.1"/><circle cx="252.3" cy="332.0" r="1.1"/><circle cx="250.7" cy="318.5" r="1.1"/><circle cx="240.8" cy="324.9" r="1.1"/><circle cx="219.9" cy="323.7" r="1.1"/><circle cx="237.9" cy="336.7" r="1.1"/><circle cx="246.7" cy="334.8" r="1.1"/><circle cx="242.8" cy="326.2" r="1.1"/><circle cx="226.2" cy="326.0" r="1.1"/><circle cx="228.0" cy="324.6" r="1.1"/><circle cx="240.6" cy="324.8" r="1.1"/><circle cx="255.1" cy="334.8" r="1.1"/><circle cx="246.5" cy="340.4" r="1.1"/><circle cx="204.2" cy="331.5" r="1.1"/><circle cx="211.2" cy="333.8" r="1.1"/><circle cx="234.8" cy="318.5" r="1.1"/><circle cx="231.3" cy="327.1" r="1.1"/><circle cx="238.5" cy="334.6" r="1.1"/><circle cx="225.5" cy="322.1" r="1.1"/><circle cx="245.6" cy="341.5" r="1.1"/><circle cx="217.7" cy="329.5" r="1.1"/><circle cx="224.9" cy="338.2" r="1.1"/><circle cx="226.0" cy="330.9" r="1.1"/><circle cx="241.9" cy="326.6" r="1.1"/><circle cx="214.9" cy="335.0" r="1.1"/><circle cx="244.4" cy="338.9" r="1.1"/><circle cx="214.5" cy="326.8" r="1.1"/><circle cx="247.8" cy="326.1" r="1.1"/><circle cx="209.4" cy="333.5" r="1.1"/><circle cx="248.3" cy="324.5" r="1.1"/><circle cx="234.1" cy="323.8" r="1.1"/><circle cx="214.9" cy="337.2" r="1.1"/><circle cx="238.5" cy="328.6" r="1.1"/><circle cx="248.8" cy="333.7" r="1.1"/><circle cx="218.8" cy="322.4" r="1.1"/><circle cx="233.3" cy="340.4" r="1.1"/><circle cx="222.3" cy="340.5" r="1.1"/><circle cx="250.6" cy="329.4" r="1.1"/><circle cx="216.5" cy="337.6" r="1.1"/><circle cx="226.4" cy="330.4" r="1.1"/><circle cx="243.2" cy="330.7" r="1.1"/><circle cx="218.1" cy="330.4" r="1.1"/><circle cx="229.4" cy="336.7" r="1.1"/><circle cx="226.5" cy="322.9" r="1.1"/><circle cx="222.7" cy="321.7" r="1.1"/><circle cx="255.1" cy="331.8" r="1.1"/><circle cx="249.3" cy="328.1" r="1.1"/><circle cx="253.7" cy="331.1" r="1.1"/><circle cx="249.5" cy="326.1" r="1.1"/><circle cx="238.2" cy="331.4" r="1.1"/><circle cx="256.4" cy="330.3" r="1.1"/><circle cx="216.3" cy="333.6" r="1.1"/><circle cx="215.4" cy="332.7" r="1.1"/><circle cx="246.4" cy="327.7" r="1.1"/><circle cx="253.6" cy="333.8" r="1.1"/><circle cx="247.2" cy="338.2" r="1.1"/><circle cx="236.8" cy="344.2" r="1.1"/><circle cx="246.6" cy="322.3" r="1.1"/><circle cx="247.0" cy="316.1" r="1.1"/><circle cx="249.9" cy="334.0" r="1.1"/><circle cx="232.3" cy="341.3" r="1.1"/><circle cx="244.4" cy="315.6" r="1.1"/><circle cx="233.7" cy="336.2" r="1.1"/><circle cx="217.1" cy="330.6" r="1.1"/><circle cx="230.2" cy="334.4" r="1.1"/><circle cx="205.4" cy="326.0" r="1.1"/><circle cx="230.5" cy="331.1" r="1.1"/><circle cx="232.8" cy="330.8" r="1.1"/><circle cx="250.0" cy="329.6" r="1.1"/><circle cx="228.8" cy="319.8" r="1.1"/><circle cx="250.0" cy="325.9" r="1.1"/><circle cx="206.3" cy="339.7" r="1.1"/><circle cx="238.4" cy="340.5" r="1.1"/><circle cx="241.0" cy="332.1" r="1.1"/><circle cx="255.2" cy="319.8" r="1.1"/><circle cx="229.7" cy="331.8" r="1.1"/><circle cx="243.0" cy="329.0" r="1.1"/><circle cx="237.7" cy="322.2" r="1.1"/><circle cx="222.9" cy="343.1" r="1.1"/><circle cx="229.1" cy="317.3" r="1.1"/><circle cx="214.1" cy="328.1" r="1.1"/><circle cx="226.9" cy="321.6" r="1.1"/><circle cx="249.2" cy="334.8" r="1.1"/><circle cx="218.8" cy="333.9" r="1.1"/><circle cx="230.8" cy="323.4" r="1.1"/><circle cx="239.4" cy="329.4" r="1.1"/><circle cx="247.2" cy="327.0" r="1.1"/><circle cx="219.1" cy="336.1" r="1.1"/><circle cx="235.5" cy="321.4" r="1.1"/></g>
<path d="M200.8 317.0Q232 309.5 266.4 305.2" stroke="#1a9f63" stroke-width="1.1" fill="none"/>
<text x="212.0" y="271.5" font-size="7.14"><tspan class="i">p</tspan>-value &lt; 0.0001, ρ = 0.3012</text>
<text transform="translate(174.8,317.4) rotate(-90)" font-size="6.37" text-anchor="middle">SUCNR1, mRNA Expression RSEM</text>
<text transform="translate(182.9,317.6) rotate(-90)" font-size="6.29" text-anchor="middle">(Batch normalized from Illumina HiSeq_RNASeqV2) log2</text>
<text x="244.7" y="384.7" font-size="6.84" text-anchor="middle"><tspan class="i">Apibacter</tspan>, Microbiome Signatures</text>
<text x="244.5" y="393.8" font-size="6.84" text-anchor="middle">(log RNA Seq CPM) log2</text>
<path d="M343.3 229V363.7H543.5" stroke="#7a7a7a" stroke-width="0.9" fill="none"/>
<path d="M343.3 234.7h-1.5" stroke="#7a7a7a" stroke-width="0.9"/>
<text x="339.6" y="236.7" class="tk" text-anchor="end" >100%</text>
<path d="M343.3 247.7h-1.5" stroke="#7a7a7a" stroke-width="0.9"/>
<text x="339.6" y="249.2" class="tk" text-anchor="end" >90%</text>
<path d="M343.3 260.7h-1.5" stroke="#7a7a7a" stroke-width="0.9"/>
<text x="339.6" y="262.3" class="tk" text-anchor="end" >80%</text>
<path d="M343.3 273.7h-1.5" stroke="#7a7a7a" stroke-width="0.9"/>
<text x="339.6" y="275.5" class="tk" text-anchor="end" >70%</text>
<path d="M343.3 286.7h-1.5" stroke="#7a7a7a" stroke-width="0.9"/>
<text x="339.6" y="288.6" class="tk" text-anchor="end" >60%</text>
<path d="M343.3 299.6h-1.5" stroke="#7a7a7a" stroke-width="0.9"/>
<text x="339.6" y="301.7" class="tk" text-anchor="end" >50%</text>
<path d="M343.3 312.6h-1.5" stroke="#7a7a7a" stroke-width="0.9"/>
<text x="339.6" y="314.8" class="tk" text-anchor="end" >40%</text>
<path d="M343.3 325.6h-1.5" stroke="#7a7a7a" stroke-width="0.9"/>
<text x="339.6" y="327.9" class="tk" text-anchor="end" >30%</text>
<path d="M343.3 338.6h-1.5" stroke="#7a7a7a" stroke-width="0.9"/>
<text x="339.6" y="341.1" class="tk" text-anchor="end" >20%</text>
<path d="M343.3 351.6h-1.5" stroke="#7a7a7a" stroke-width="0.9"/>
<text x="339.6" y="354.2" class="tk" text-anchor="end" >10%</text>
<path d="M343.3 364.6h-1.5" stroke="#7a7a7a" stroke-width="0.9"/>
<text x="339.6" y="367.3" class="tk" text-anchor="end" >0%</text>
<path d="M343.4 363.7v1.3" stroke="#7a7a7a" stroke-width="0.9"/>
<text x="343.4" y="373.2" class="tk" text-anchor="middle" >0</text>
<path d="M353.4 363.7v1.3" stroke="#7a7a7a" stroke-width="0.9"/>
<text x="352.4" y="373.2" class="tk" text-anchor="middle" >10</text>
<path d="M363.6 363.7v1.3" stroke="#7a7a7a" stroke-width="0.9"/>
<text x="362.6" y="373.2" class="tk" text-anchor="middle" >20</text>
<path d="M373.6 363.7v1.3" stroke="#7a7a7a" stroke-width="0.9"/>
<text x="372.6" y="373.2" class="tk" text-anchor="middle" >30</text>
<path d="M384.0 363.7v1.3" stroke="#7a7a7a" stroke-width="0.9"/>
<text x="383.0" y="373.2" class="tk" text-anchor="middle" >40</text>
<path d="M393.8 363.7v1.3" stroke="#7a7a7a" stroke-width="0.9"/>
<text x="392.8" y="373.2" class="tk" text-anchor="middle" >50</text>
<path d="M404.0 363.7v1.3" stroke="#7a7a7a" stroke-width="0.9"/>
<text x="403.0" y="373.2" class="tk" text-anchor="middle" >60</text>
<path d="M414.0 363.7v1.3" stroke="#7a7a7a" stroke-width="0.9"/>
<text x="413.0" y="373.2" class="tk" text-anchor="middle" >70</text>
<path d="M424.4 363.7v1.3" stroke="#7a7a7a" stroke-width="0.9"/>
<text x="423.4" y="373.2" class="tk" text-anchor="middle" >80</text>
<path d="M434.4 363.7v1.3" stroke="#7a7a7a" stroke-width="0.9"/>
<text x="433.4" y="373.2" class="tk" text-anchor="middle" >90</text>
<path d="M444.4 363.7v1.3" stroke="#7a7a7a" stroke-width="0.9"/>
<text x="443.4" y="373.2" class="tk" text-anchor="middle" >100</text>
<path d="M455.0 363.7v1.3" stroke="#7a7a7a" stroke-width="0.9"/>
<text x="454.0" y="373.2" class="tk" text-anchor="middle" >110</text>
<path d="M466.0 363.7v1.3" stroke="#7a7a7a" stroke-width="0.9"/>
<text x="465.0" y="373.2" class="tk" text-anchor="middle" >120</text>
<path d="M477.0 363.7v1.3" stroke="#7a7a7a" stroke-width="0.9"/>
<text x="476.0" y="373.2" class="tk" text-anchor="middle" >130</text>
<path d="M488.0 363.7v1.3" stroke="#7a7a7a" stroke-width="0.9"/>
<text x="487.0" y="373.2" class="tk" text-anchor="middle" >140</text>
<path d="M499.0 363.7v1.3" stroke="#7a7a7a" stroke-width="0.9"/>
<text x="498.0" y="373.2" class="tk" text-anchor="middle" >150</text>
<path d="M510.0 363.7v1.3" stroke="#7a7a7a" stroke-width="0.9"/>
<text x="509.0" y="373.2" class="tk" text-anchor="middle" >160</text>
<path d="M520.6 363.7v1.3" stroke="#7a7a7a" stroke-width="0.9"/>
<text x="519.6" y="373.2" class="tk" text-anchor="middle" >170</text>
<path d="M531.6 363.7v1.3" stroke="#7a7a7a" stroke-width="0.9"/>
<text x="530.6" y="373.2" class="tk" text-anchor="middle" >180</text>
<path d="M542.6 363.7v1.3" stroke="#7a7a7a" stroke-width="0.9"/>
<text x="541.6" y="373.2" class="tk" text-anchor="middle" >190</text>
<text transform="translate(323.5,298.9) rotate(-90)" class="b" font-size="7.02" text-anchor="middle">Disease-specific</text>
<text x="444.0" y="381.6" class="b" font-size="7.05" text-anchor="middle">Months of disease-specific survival</text>
<text x="440.5" y="231.8" font-size="7.22">Logrank Test <tspan class="i">p</tspan>-value: 5.6x10<tspan font-size="4.2" dy="-2.9">−3</tspan></text>
<rect x="354.0" y="327.6" width="5" height="5" fill="#dc3912"/>
<text x="360" y="331.6" font-size="5.42">(A) High SUCNR1, Low <tspan class="i">Apibacter</tspan></text>
<rect x="354.0" y="336.4" width="5" height="5" fill="#139a1c"/>
<text x="360" y="340.4" font-size="5.42">(B) High SUCNR1, High <tspan class="i">Apibacter</tspan></text>
<rect x="354.0" y="345.1" width="5" height="5" fill="#fb9410"/>
<text x="360" y="349.1" font-size="5.42">(C) Low SUCNR1, High <tspan class="i">Apibacter</tspan></text>
<rect x="354.0" y="353.9" width="5" height="5" fill="#2986e2"/>
<text x="360" y="357.9" font-size="5.42">(D) Low SUCNR1, Low <tspan class="i">Apibacter</tspan></text>
<path d="M343.5 234.7H348.2V236.5H349.2V238.8H351.0V242.0H352.6V247.1H354.2V251.9H356.0V254.5H362.4V257.3H363.6V260.0H364.6V262.8H365.8V265.5H386.4V271.5H542.8V271.5" fill="none" stroke="#139a1c" stroke-width="0.55" stroke-opacity="0.8"/>
<path d="M343.5 234.7H350.5V236.2H352.2V238.6H353.4V241.4H381.3V247.5H387.0V254.4H471.8V254.4" fill="none" stroke="#dc3912" stroke-width="0.55" stroke-opacity="0.8"/>
<path d="M343.5 234.5H353.4V235.5H355.0V237.5H357.5V239.5H360.3V241.2H402.3V248.9H431.4V265.4H476.7V265.4" fill="none" stroke="#fb9410" stroke-width="0.55" stroke-opacity="0.8"/>
<path d="M343.5 234.7H352.0V235.6H354.5V236.7H359.6V239.2H363.5V242.0H457.0V242.0" fill="none" stroke="#2986e2" stroke-width="0.55" stroke-opacity="0.8"/>
<path d="M349.15 236.75L350.05 236.75L350.05 237.55L350.85 237.55L350.85 238.45L350.05 238.45L350.05 239.25L349.15 239.25L349.15 238.45L348.35 238.45L348.35 237.55L349.15 237.55zM348.60 238.00l1.00 -1.00l1.00 1.00l-1.00 1.00zM350.95 239.75L351.85 239.75L351.85 240.55L352.65 240.55L352.65 241.45L351.85 241.45L351.85 242.25L350.95 242.25L350.95 241.45L350.15 241.45L350.15 240.55L350.95 240.55zM350.40 241.00l1.00 -1.00l1.00 1.00l-1.00 1.00zM352.45 244.75L353.35 244.75L353.35 245.55L354.15 245.55L354.15 246.45L353.35 246.45L353.35 247.25L352.45 247.25L352.45 246.45L351.65 246.45L351.65 245.55L352.45 245.55zM351.90 246.00l1.00 -1.00l1.00 1.00l-1.00 1.00zM354.35 251.15L355.25 251.15L355.25 251.95L356.05 251.95L356.05 252.85L355.25 252.85L355.25 253.65L354.35 253.65L354.35 252.85L353.55 252.85L353.55 251.95L354.35 251.95zM353.80 252.40l1.00 -1.00l1.00 1.00l-1.00 1.00zM356.05 253.25L356.95 253.25L356.95 254.05L357.75 254.05L357.75 254.95L356.95 254.95L356.95 255.75L356.05 255.75L356.05 254.95L355.25 254.95L355.25 254.05L356.05 254.05zM355.50 254.50l1.00 -1.00l1.00 1.00l-1.00 1.00zM357.55 253.25L358.45 253.25L358.45 254.05L359.25 254.05L359.25 254.95L358.45 254.95L358.45 255.75L357.55 255.75L357.55 254.95L356.75 254.95L356.75 254.05L357.55 254.05zM357.00 254.50l1.00 -1.00l1.00 1.00l-1.00 1.00zM359.15 253.25L360.05 253.25L360.05 254.05L360.85 254.05L360.85 254.95L360.05 254.95L360.05 255.75L359.15 255.75L359.15 254.95L358.35 254.95L358.35 254.05L359.15 254.05zM358.60 254.50l1.00 -1.00l1.00 1.00l-1.00 1.00zM360.55 253.25L361.45 253.25L361.45 254.05L362.25 254.05L362.25 254.95L361.45 254.95L361.45 255.75L360.55 255.75L360.55 254.95L359.75 254.95L359.75 254.05L360.55 254.05zM360.00 254.50l1.00 -1.00l1.00 1.00l-1.00 1.00zM362.55 256.05L363.45 256.05L363.45 256.85L364.25 256.85L364.25 257.75L363.45 257.75L363.45 258.55L362.55 258.55L362.55 257.75L361.75 257.75L361.75 256.85L362.55 256.85zM362.00 257.30l1.00 -1.00l1.00 1.00l-1.00 1.00zM363.75 258.95L364.65 258.95L364.65 259.75L365.45 259.75L365.45 260.65L364.65 260.65L364.65 261.45L363.75 261.45L363.75 260.65L362.95 260.65L362.95 259.75L363.75 259.75zM363.20 260.20l1.00 -1.00l1.00 1.00l-1.00 1.00zM366.55 264.25L367.45 264.25L367.45 265.05L368.25 265.05L368.25 265.95L367.45 265.95L367.45 266.75L366.55 266.75L366.55 265.95L365.75 265.95L365.75 265.05L366.55 265.05zM366.00 265.50l1.00 -1.00l1.00 1.00l-1.00 1.00zM367.95 264.25L368.85 264.25L368.85 265.05L369.65 265.05L369.65 265.95L368.85 265.95L368.85 266.75L367.95 266.75L367.95 265.95L367.15 265.95L367.15 265.05L367.95 265.05zM367.40 265.50l1.00 -1.00l1.00 1.00l-1.00 1.00zM369.35 264.25L370.25 264.25L370.25 265.05L371.05 265.05L371.05 265.95L370.25 265.95L370.25 266.75L369.35 266.75L369.35 265.95L368.55 265.95L368.55 265.05L369.35 265.05zM368.80 265.50l1.00 -1.00l1.00 1.00l-1.00 1.00zM372.05 264.25L372.95 264.25L372.95 265.05L373.75 265.05L373.75 265.95L372.95 265.95L372.95 266.75L372.05 266.75L372.05 265.95L371.25 265.95L371.25 265.05L372.05 265.05zM371.50 265.50l1.00 -1.00l1.00 1.00l-1.00 1.00zM373.55 264.25L374.45 264.25L374.45 265.05L375.25 265.05L375.25 265.95L374.45 265.95L374.45 266.75L373.55 266.75L373.55 265.95L372.75 265.95L372.75 265.05L373.55 265.05zM373.00 265.50l1.00 -1.00l1.00 1.00l-1.00 1.00zM376.55 264.25L377.45 264.25L377.45 265.05L378.25 265.05L378.25 265.95L377.45 265.95L377.45 266.75L376.55 266.75L376.55 265.95L375.75 265.95L375.75 265.05L376.55 265.05zM376.00 265.50l1.00 -1.00l1.00 1.00l-1.00 1.00zM378.55 264.25L379.45 264.25L379.45 265.05L380.25 265.05L380.25 265.95L379.45 265.95L379.45 266.75L378.55 266.75L378.55 265.95L377.75 265.95L377.75 265.05L378.55 265.05zM378.00 265.50l1.00 -1.00l1.00 1.00l-1.00 1.00zM381.55 264.25L382.45 264.25L382.45 265.05L383.25 265.05L383.25 265.95L382.45 265.95L382.45 266.75L381.55 266.75L381.55 265.95L380.75 265.95L380.75 265.05L381.55 265.05zM381.00 265.50l1.00 -1.00l1.00 1.00l-1.00 1.00zM383.55 264.25L384.45 264.25L384.45 265.05L385.25 265.05L385.25 265.95L384.45 265.95L384.45 266.75L383.55 266.75L383.55 265.95L382.75 265.95L382.75 265.05L383.55 265.05zM383.00 265.50l1.00 -1.00l1.00 1.00l-1.00 1.00zM385.05 264.25L385.95 264.25L385.95 265.05L386.75 265.05L386.75 265.95L385.95 265.95L385.95 266.75L385.05 266.75L385.05 265.95L384.25 265.95L384.25 265.05L385.05 265.05zM384.50 265.50l1.00 -1.00l1.00 1.00l-1.00 1.00zM387.05 270.25L387.95 270.25L387.95 271.05L388.75 271.05L388.75 271.95L387.95 271.95L387.95 272.75L387.05 272.75L387.05 271.95L386.25 271.95L386.25 271.05L387.05 271.05zM386.50 271.50l1.00 -1.00l1.00 1.00l-1.00 1.00zM388.55 270.25L389.45 270.25L389.45 271.05L390.25 271.05L390.25 271.95L389.45 271.95L389.45 272.75L388.55 272.75L388.55 271.95L387.75 271.95L387.75 271.05L388.55 271.05zM388.00 271.50l1.00 -1.00l1.00 1.00l-1.00 1.00zM393.55 270.25L394.45 270.25L394.45 271.05L395.25 271.05L395.25 271.95L394.45 271.95L394.45 272.75L393.55 272.75L393.55 271.95L392.75 271.95L392.75 271.05L393.55 271.05zM393.00 271.50l1.00 -1.00l1.00 1.00l-1.00 1.00zM395.55 270.25L396.45 270.25L396.45 271.05L397.25 271.05L397.25 271.95L396.45 271.95L396.45 272.75L395.55 272.75L395.55 271.95L394.75 271.95L394.75 271.05L395.55 271.05zM395.00 271.50l1.00 -1.00l1.00 1.00l-1.00 1.00zM404.05 270.25L404.95 270.25L404.95 271.05L405.75 271.05L405.75 271.95L404.95 271.95L404.95 272.75L404.05 272.75L404.05 271.95L403.25 271.95L403.25 271.05L404.05 271.05zM403.50 271.50l1.00 -1.00l1.00 1.00l-1.00 1.00zM411.05 270.25L411.95 270.25L411.95 271.05L412.75 271.05L412.75 271.95L411.95 271.95L411.95 272.75L411.05 272.75L411.05 271.95L410.25 271.95L410.25 271.05L411.05 271.05zM410.50 271.50l1.00 -1.00l1.00 1.00l-1.00 1.00zM419.15 270.25L420.05 270.25L420.05 271.05L420.85 271.05L420.85 271.95L420.05 271.95L420.05 272.75L419.15 272.75L419.15 271.95L418.35 271.95L418.35 271.05L419.15 271.05zM418.60 271.50l1.00 -1.00l1.00 1.00l-1.00 1.00zM424.55 270.25L425.45 270.25L425.45 271.05L426.25 271.05L426.25 271.95L425.45 271.95L425.45 272.75L424.55 272.75L424.55 271.95L423.75 271.95L423.75 271.05L424.55 271.05zM424.00 271.50l1.00 -1.00l1.00 1.00l-1.00 1.00zM425.85 270.25L426.75 270.25L426.75 271.05L427.55 271.05L427.55 271.95L426.75 271.95L426.75 272.75L425.85 272.75L425.85 271.95L425.05 271.95L425.05 271.05L425.85 271.05zM425.30 271.50l1.00 -1.00l1.00 1.00l-1.00 1.00zM431.75 270.25L432.65 270.25L432.65 271.05L433.45 271.05L433.45 271.95L432.65 271.95L432.65 272.75L431.75 272.75L431.75 271.95L430.95 271.95L430.95 271.05L431.75 271.05zM431.20 271.50l1.00 -1.00l1.00 1.00l-1.00 1.00zM437.85 270.25L438.75 270.25L438.75 271.05L439.55 271.05L439.55 271.95L438.75 271.95L438.75 272.75L437.85 272.75L437.85 271.95L437.05 271.95L437.05 271.05L437.85 271.05zM437.30 271.50l1.00 -1.00l1.00 1.00l-1.00 1.00zM440.95 270.25L441.85 270.25L441.85 271.05L442.65 271.05L442.65 271.95L441.85 271.95L441.85 272.75L440.95 272.75L440.95 271.95L440.15 271.95L440.15 271.05L440.95 271.05zM440.40 271.50l1.00 -1.00l1.00 1.00l-1.00 1.00zM443.25 270.25L444.15 270.25L444.15 271.05L444.95 271.05L444.95 271.95L444.15 271.95L444.15 272.75L443.25 272.75L443.25 271.95L442.45 271.95L442.45 271.05L443.25 271.05zM442.70 271.50l1.00 -1.00l1.00 1.00l-1.00 1.00zM469.75 270.25L470.65 270.25L470.65 271.05L471.45 271.05L471.45 271.95L470.65 271.95L470.65 272.75L469.75 272.75L469.75 271.95L468.95 271.95L468.95 271.05L469.75 271.05zM469.20 271.50l1.00 -1.00l1.00 1.00l-1.00 1.00zM542.15 270.25L543.05 270.25L543.05 271.05L543.85 271.05L543.85 271.95L543.05 271.95L543.05 272.75L542.15 272.75L542.15 271.95L541.35 271.95L541.35 271.05L542.15 271.05zM541.60 271.50l1.00 -1.00l1.00 1.00l-1.00 1.00z" fill="#139a1c" stroke="none"/>
<path d="M353.35 239.25L354.25 239.25L354.25 240.05L355.05 240.05L355.05 240.95L354.25 240.95L354.25 241.75L353.35 241.75L353.35 240.95L352.55 240.95L352.55 240.05L353.35 240.05zM352.80 240.50l1.00 -1.00l1.00 1.00l-1.00 1.00zM355.05 240.15L355.95 240.15L355.95 240.95L356.75 240.95L356.75 241.85L355.95 241.85L355.95 242.65L355.05 242.65L355.05 241.85L354.25 241.85L354.25 240.95L355.05 240.95zM354.50 241.40l1.00 -1.00l1.00 1.00l-1.00 1.00zM356.55 240.15L357.45 240.15L357.45 240.95L358.25 240.95L358.25 241.85L357.45 241.85L357.45 242.65L356.55 242.65L356.55 241.85L355.75 241.85L355.75 240.95L356.55 240.95zM356.00 241.40l1.00 -1.00l1.00 1.00l-1.00 1.00zM381.95 246.25L382.85 246.25L382.85 247.05L383.65 247.05L383.65 247.95L382.85 247.95L382.85 248.75L381.95 248.75L381.95 247.95L381.15 247.95L381.15 247.05L381.95 247.05zM381.40 247.50l1.00 -1.00l1.00 1.00l-1.00 1.00zM383.55 246.25L384.45 246.25L384.45 247.05L385.25 247.05L385.25 247.95L384.45 247.95L384.45 248.75L383.55 248.75L383.55 247.95L382.75 247.95L382.75 247.05L383.55 247.05zM383.00 247.50l1.00 -1.00l1.00 1.00l-1.00 1.00zM387.55 253.15L388.45 253.15L388.45 253.95L389.25 253.95L389.25 254.85L388.45 254.85L388.45 255.65L387.55 255.65L387.55 254.85L386.75 254.85L386.75 253.95L387.55 253.95zM387.00 254.40l1.00 -1.00l1.00 1.00l-1.00 1.00zM391.05 253.15L391.95 253.15L391.95 253.95L392.75 253.95L392.75 254.85L391.95 254.85L391.95 255.65L391.05 255.65L391.05 254.85L390.25 254.85L390.25 253.95L391.05 253.95zM390.50 254.40l1.00 -1.00l1.00 1.00l-1.00 1.00zM393.55 253.15L394.45 253.15L394.45 253.95L395.25 253.95L395.25 254.85L394.45 254.85L394.45 255.65L393.55 255.65L393.55 254.85L392.75 254.85L392.75 253.95L393.55 253.95zM393.00 254.40l1.00 -1.00l1.00 1.00l-1.00 1.00zM400.55 253.15L401.45 253.15L401.45 253.95L402.25 253.95L402.25 254.85L401.45 254.85L401.45 255.65L400.55 255.65L400.55 254.85L399.75 254.85L399.75 253.95L400.55 253.95zM400.00 254.40l1.00 -1.00l1.00 1.00l-1.00 1.00zM405.05 253.15L405.95 253.15L405.95 253.95L406.75 253.95L406.75 254.85L405.95 254.85L405.95 255.65L405.05 255.65L405.05 254.85L404.25 254.85L404.25 253.95L405.05 253.95zM404.50 254.40l1.00 -1.00l1.00 1.00l-1.00 1.00zM408.05 253.15L408.95 253.15L408.95 253.95L409.75 253.95L409.75 254.85L408.95 254.85L408.95 255.65L408.05 255.65L408.05 254.85L407.25 254.85L407.25 253.95L408.05 253.95zM407.50 254.40l1.00 -1.00l1.00 1.00l-1.00 1.00zM411.15 253.15L412.05 253.15L412.05 253.95L412.85 253.95L412.85 254.85L412.05 254.85L412.05 255.65L411.15 255.65L411.15 254.85L410.35 254.85L410.35 253.95L411.15 253.95zM410.60 254.40l1.00 -1.00l1.00 1.00l-1.00 1.00zM423.25 253.15L424.15 253.15L424.15 253.95L424.95 253.95L424.95 254.85L424.15 254.85L424.15 255.65L423.25 255.65L423.25 254.85L422.45 254.85L422.45 253.95L423.25 253.95zM422.70 254.40l1.00 -1.00l1.00 1.00l-1.00 1.00zM429.55 253.15L430.45 253.15L430.45 253.95L431.25 253.95L431.25 254.85L430.45 254.85L430.45 255.65L429.55 255.65L429.55 254.85L428.75 254.85L428.75 253.95L429.55 253.95zM429.00 254.40l1.00 -1.00l1.00 1.00l-1.00 1.00zM431.05 253.15L431.95 253.15L431.95 253.95L432.75 253.95L432.75 254.85L431.95 254.85L431.95 255.65L431.05 255.65L431.05 254.85L430.25 254.85L430.25 253.95L431.05 253.95zM430.50 254.40l1.00 -1.00l1.00 1.00l-1.00 1.00zM435.05 253.15L435.95 253.15L435.95 253.95L436.75 253.95L436.75 254.85L435.95 254.85L435.95 255.65L435.05 255.65L435.05 254.85L434.25 254.85L434.25 253.95L435.05 253.95zM434.50 254.40l1.00 -1.00l1.00 1.00l-1.00 1.00zM437.05 253.15L437.95 253.15L437.95 253.95L438.75 253.95L438.75 254.85L437.95 254.85L437.95 255.65L437.05 255.65L437.05 254.85L436.25 254.85L436.25 253.95L437.05 253.95zM436.50 254.40l1.00 -1.00l1.00 1.00l-1.00 1.00zM445.55 253.15L446.45 253.15L446.45 253.95L447.25 253.95L447.25 254.85L446.45 254.85L446.45 255.65L445.55 255.65L445.55 254.85L444.75 254.85L444.75 253.95L445.55 253.95zM445.00 254.40l1.00 -1.00l1.00 1.00l-1.00 1.00zM471.15 253.15L472.05 253.15L472.05 253.95L472.85 253.95L472.85 254.85L472.05 254.85L472.05 255.65L471.15 255.65L471.15 254.85L470.35 254.85L470.35 253.95L471.15 253.95zM470.60 254.40l1.00 -1.00l1.00 1.00l-1.00 1.00z" fill="#dc3912" stroke="none"/>
<path d="M343.75 233.45L344.65 233.45L344.65 234.25L345.45 234.25L345.45 235.15L344.65 235.15L344.65 235.95L343.75 235.95L343.75 235.15L342.95 235.15L342.95 234.25L343.75 234.25zM343.20 234.70l1.00 -1.00l1.00 1.00l-1.00 1.00zM345.05 233.45L345.95 233.45L345.95 234.25L346.75 234.25L346.75 235.15L345.95 235.15L345.95 235.95L345.05 235.95L345.05 235.15L344.25 235.15L344.25 234.25L345.05 234.25zM344.50 234.70l1.00 -1.00l1.00 1.00l-1.00 1.00zM346.95 233.45L347.85 233.45L347.85 234.25L348.65 234.25L348.65 235.15L347.85 235.15L347.85 235.95L346.95 235.95L346.95 235.15L346.15 235.15L346.15 234.25L346.95 234.25zM346.40 234.70l1.00 -1.00l1.00 1.00l-1.00 1.00zM350.35 233.45L351.25 233.45L351.25 234.25L352.05 234.25L352.05 235.15L351.25 235.15L351.25 235.95L350.35 235.95L350.35 235.15L349.55 235.15L349.55 234.25L350.35 234.25zM349.80 234.70l1.00 -1.00l1.00 1.00l-1.00 1.00zM355.05 235.45L355.95 235.45L355.95 236.25L356.75 236.25L356.75 237.15L355.95 237.15L355.95 237.95L355.05 237.95L355.05 237.15L354.25 237.15L354.25 236.25L355.05 236.25zM354.50 236.70l1.00 -1.00l1.00 1.00l-1.00 1.00zM356.55 235.45L357.45 235.45L357.45 236.25L358.25 236.25L358.25 237.15L357.45 237.15L357.45 237.95L356.55 237.95L356.55 237.15L355.75 237.15L355.75 236.25L356.55 236.25zM356.00 236.70l1.00 -1.00l1.00 1.00l-1.00 1.00zM358.05 235.45L358.95 235.45L358.95 236.25L359.75 236.25L359.75 237.15L358.95 237.15L358.95 237.95L358.05 237.95L358.05 237.15L357.25 237.15L357.25 236.25L358.05 236.25zM357.50 236.70l1.00 -1.00l1.00 1.00l-1.00 1.00zM360.05 237.95L360.95 237.95L360.95 238.75L361.75 238.75L361.75 239.65L360.95 239.65L360.95 240.45L360.05 240.45L360.05 239.65L359.25 239.65L359.25 238.75L360.05 238.75zM359.50 239.20l1.00 -1.00l1.00 1.00l-1.00 1.00zM361.55 237.95L362.45 237.95L362.45 238.75L363.25 238.75L363.25 239.65L362.45 239.65L362.45 240.45L361.55 240.45L361.55 239.65L360.75 239.65L360.75 238.75L361.55 238.75zM361.00 239.20l1.00 -1.00l1.00 1.00l-1.00 1.00zM363.75 240.75L364.65 240.75L364.65 241.55L365.45 241.55L365.45 242.45L364.65 242.45L364.65 243.25L363.75 243.25L363.75 242.45L362.95 242.45L362.95 241.55L363.75 241.55zM363.20 242.00l1.00 -1.00l1.00 1.00l-1.00 1.00zM365.05 240.75L365.95 240.75L365.95 241.55L366.75 241.55L366.75 242.45L365.95 242.45L365.95 243.25L365.05 243.25L365.05 242.45L364.25 242.45L364.25 241.55L365.05 241.55zM364.50 242.00l1.00 -1.00l1.00 1.00l-1.00 1.00zM366.35 240.75L367.25 240.75L367.25 241.55L368.05 241.55L368.05 242.45L367.25 242.45L367.25 243.25L366.35 243.25L366.35 242.45L365.55 242.45L365.55 241.55L366.35 241.55zM365.80 242.00l1.00 -1.00l1.00 1.00l-1.00 1.00zM367.65 240.75L368.55 240.75L368.55 241.55L369.35 241.55L369.35 242.45L368.55 242.45L368.55 243.25L367.65 243.25L367.65 242.45L366.85 242.45L366.85 241.55L367.65 241.55zM367.10 242.00l1.00 -1.00l1.00 1.00l-1.00 1.00zM368.95 240.75L369.85 240.75L369.85 241.55L370.65 241.55L370.65 242.45L369.85 242.45L369.85 243.25L368.95 243.25L368.95 242.45L368.15 242.45L368.15 241.55L368.95 241.55zM368.40 242.00l1.00 -1.00l1.00 1.00l-1.00 1.00zM370.25 240.75L371.15 240.75L371.15 241.55L371.95 241.55L371.95 242.45L371.15 242.45L371.15 243.25L370.25 243.25L370.25 242.45L369.45 242.45L369.45 241.55L370.25 241.55zM369.70 242.00l1.00 -1.00l1.00 1.00l-1.00 1.00zM371.55 240.75L372.45 240.75L372.45 241.55L373.25 241.55L373.25 242.45L372.45 242.45L372.45 243.25L371.55 243.25L371.55 242.45L370.75 242.45L370.75 241.55L371.55 241.55zM371.00 242.00l1.00 -1.00l1.00 1.00l-1.00 1.00zM372.85 240.75L373.75 240.75L373.75 241.55L374.55 241.55L374.55 242.45L373.75 242.45L373.75 243.25L372.85 243.25L372.85 242.45L372.05 242.45L372.05 241.55L372.85 241.55zM372.30 242.00l1.00 -1.00l1.00 1.00l-1.00 1.00zM374.15 240.75L375.05 240.75L375.05 241.55L375.85 241.55L375.85 242.45L375.05 242.45L375.05 243.25L374.15 243.25L374.15 242.45L373.35 242.45L373.35 241.55L374.15 241.55zM373.60 242.00l1.00 -1.00l1.00 1.00l-1.00 1.00zM380.15 240.75L381.05 240.75L381.05 241.55L381.85 241.55L381.85 242.45L381.05 242.45L381.05 243.25L380.15 243.25L380.15 242.45L379.35 242.45L379.35 241.55L380.15 241.55zM379.60 242.00l1.00 -1.00l1.00 1.00l-1.00 1.00zM385.95 240.75L386.85 240.75L386.85 241.55L387.65 241.55L387.65 242.45L386.85 242.45L386.85 243.25L385.95 243.25L385.95 242.45L385.15 242.45L385.15 241.55L385.95 241.55zM385.40 242.00l1.00 -1.00l1.00 1.00l-1.00 1.00zM392.55 240.75L393.45 240.75L393.45 241.55L394.25 241.55L394.25 242.45L393.45 242.45L393.45 243.25L392.55 243.25L392.55 242.45L391.75 242.45L391.75 241.55L392.55 241.55zM392.00 242.00l1.00 -1.00l1.00 1.00l-1.00 1.00zM396.75 240.75L397.65 240.75L397.65 241.55L398.45 241.55L398.45 242.45L397.65 242.45L397.65 243.25L396.75 243.25L396.75 242.45L395.95 242.45L395.95 241.55L396.75 241.55zM396.20 242.00l1.00 -1.00l1.00 1.00l-1.00 1.00zM401.15 240.75L402.05 240.75L402.05 241.55L402.85 241.55L402.85 242.45L402.05 242.45L402.05 243.25L401.15 243.25L401.15 242.45L400.35 242.45L400.35 241.55L401.15 241.55zM400.60 242.00l1.00 -1.00l1.00 1.00l-1.00 1.00zM402.45 240.75L403.35 240.75L403.35 241.55L404.15 241.55L404.15 242.45L403.35 242.45L403.35 243.25L402.45 243.25L402.45 242.45L401.65 242.45L401.65 241.55L402.45 241.55zM401.90 242.00l1.00 -1.00l1.00 1.00l-1.00 1.00zM411.55 240.75L412.45 240.75L412.45 241.55L413.25 241.55L413.25 242.45L412.45 242.45L412.45 243.25L411.55 243.25L411.55 242.45L410.75 242.45L410.75 241.55L411.55 241.55zM411.00 242.00l1.00 -1.00l1.00 1.00l-1.00 1.00zM415.15 240.75L416.05 240.75L416.05 241.55L416.85 241.55L416.85 242.45L416.05 242.45L416.05 243.25L415.15 243.25L415.15 242.45L414.35 242.45L414.35 241.55L415.15 241.55zM414.60 242.00l1.00 -1.00l1.00 1.00l-1.00 1.00zM417.15 240.75L418.05 240.75L418.05 241.55L418.85 241.55L418.85 242.45L418.05 242.45L418.05 243.25L417.15 243.25L417.15 242.45L416.35 242.45L416.35 241.55L417.15 241.55zM416.60 242.00l1.00 -1.00l1.00 1.00l-1.00 1.00zM422.75 240.75L423.65 240.75L423.65 241.55L424.45 241.55L424.45 242.45L423.65 242.45L423.65 243.25L422.75 243.25L422.75 242.45L421.95 242.45L421.95 241.55L422.75 241.55zM422.20 242.00l1.00 -1.00l1.00 1.00l-1.00 1.00zM445.15 240.75L446.05 240.75L446.05 241.55L446.85 241.55L446.85 242.45L446.05 242.45L446.05 243.25L445.15 243.25L445.15 242.45L444.35 242.45L444.35 241.55L445.15 241.55zM444.60 242.00l1.00 -1.00l1.00 1.00l-1.00 1.00zM448.95 240.75L449.85 240.75L449.85 241.55L450.65 241.55L450.65 242.45L449.85 242.45L449.85 243.25L448.95 243.25L448.95 242.45L448.15 242.45L448.15 241.55L448.95 241.55zM448.40 242.00l1.00 -1.00l1.00 1.00l-1.00 1.00zM452.25 240.75L453.15 240.75L453.15 241.55L453.95 241.55L453.95 242.45L453.15 242.45L453.15 243.25L452.25 243.25L452.25 242.45L451.45 242.45L451.45 241.55L452.25 241.55zM451.70 242.00l1.00 -1.00l1.00 1.00l-1.00 1.00zM456.15 240.75L457.05 240.75L457.05 241.55L457.85 241.55L457.85 242.45L457.05 242.45L457.05 243.25L456.15 243.25L456.15 242.45L455.35 242.45L455.35 241.55L456.15 241.55zM455.60 242.00l1.00 -1.00l1.00 1.00l-1.00 1.00z" fill="#2986e2" stroke="none"/>
<path d="M346.15 233.25L347.05 233.25L347.05 234.05L347.85 234.05L347.85 234.95L347.05 234.95L347.05 235.75L346.15 235.75L346.15 234.95L345.35 234.95L345.35 234.05L346.15 234.05zM345.60 234.50l1.00 -1.00l1.00 1.00l-1.00 1.00zM348.15 233.25L349.05 233.25L349.05 234.05L349.85 234.05L349.85 234.95L349.05 234.95L349.05 235.75L348.15 235.75L348.15 234.95L347.35 234.95L347.35 234.05L348.15 234.05zM347.60 234.50l1.00 -1.00l1.00 1.00l-1.00 1.00zM349.35 233.25L350.25 233.25L350.25 234.05L351.05 234.05L351.05 234.95L350.25 234.95L350.25 235.75L349.35 235.75L349.35 234.95L348.55 234.95L348.55 234.05L349.35 234.05zM348.80 234.50l1.00 -1.00l1.00 1.00l-1.00 1.00zM353.15 233.75L354.05 233.75L354.05 234.55L354.85 234.55L354.85 235.45L354.05 235.45L354.05 236.25L353.15 236.25L353.15 235.45L352.35 235.45L352.35 234.55L353.15 234.55zM352.60 235.00l1.00 -1.00l1.00 1.00l-1.00 1.00zM360.05 239.95L360.95 239.95L360.95 240.75L361.75 240.75L361.75 241.65L360.95 241.65L360.95 242.45L360.05 242.45L360.05 241.65L359.25 241.65L359.25 240.75L360.05 240.75zM359.50 241.20l1.00 -1.00l1.00 1.00l-1.00 1.00zM361.35 239.95L362.25 239.95L362.25 240.75L363.05 240.75L363.05 241.65L362.25 241.65L362.25 242.45L361.35 242.45L361.35 241.65L360.55 241.65L360.55 240.75L361.35 240.75zM360.80 241.20l1.00 -1.00l1.00 1.00l-1.00 1.00zM376.35 239.95L377.25 239.95L377.25 240.75L378.05 240.75L378.05 241.65L377.25 241.65L377.25 242.45L376.35 242.45L376.35 241.65L375.55 241.65L375.55 240.75L376.35 240.75zM375.80 241.20l1.00 -1.00l1.00 1.00l-1.00 1.00zM378.25 239.95L379.15 239.95L379.15 240.75L379.95 240.75L379.95 241.65L379.15 241.65L379.15 242.45L378.25 242.45L378.25 241.65L377.45 241.65L377.45 240.75L378.25 240.75zM377.70 241.20l1.00 -1.00l1.00 1.00l-1.00 1.00zM382.05 239.95L382.95 239.95L382.95 240.75L383.75 240.75L383.75 241.65L382.95 241.65L382.95 242.45L382.05 242.45L382.05 241.65L381.25 241.65L381.25 240.75L382.05 240.75zM381.50 241.20l1.00 -1.00l1.00 1.00l-1.00 1.00zM384.05 239.95L384.95 239.95L384.95 240.75L385.75 240.75L385.75 241.65L384.95 241.65L384.95 242.45L384.05 242.45L384.05 241.65L383.25 241.65L383.25 240.75L384.05 240.75zM383.50 241.20l1.00 -1.00l1.00 1.00l-1.00 1.00zM389.05 239.95L389.95 239.95L389.95 240.75L390.75 240.75L390.75 241.65L389.95 241.65L389.95 242.45L389.05 242.45L389.05 241.65L388.25 241.65L388.25 240.75L389.05 240.75zM388.50 241.20l1.00 -1.00l1.00 1.00l-1.00 1.00zM391.65 239.95L392.55 239.95L392.55 240.75L393.35 240.75L393.35 241.65L392.55 241.65L392.55 242.45L391.65 242.45L391.65 241.65L390.85 241.65L390.85 240.75L391.65 240.75zM391.10 241.20l1.00 -1.00l1.00 1.00l-1.00 1.00zM393.55 239.95L394.45 239.95L394.45 240.75L395.25 240.75L395.25 241.65L394.45 241.65L394.45 242.45L393.55 242.45L393.55 241.65L392.75 241.65L392.75 240.75L393.55 240.75zM393.00 241.20l1.00 -1.00l1.00 1.00l-1.00 1.00zM395.45 239.95L396.35 239.95L396.35 240.75L397.15 240.75L397.15 241.65L396.35 241.65L396.35 242.45L395.45 242.45L395.45 241.65L394.65 241.65L394.65 240.75L395.45 240.75zM394.90 241.20l1.00 -1.00l1.00 1.00l-1.00 1.00zM397.35 239.95L398.25 239.95L398.25 240.75L399.05 240.75L399.05 241.65L398.25 241.65L398.25 242.45L397.35 242.45L397.35 241.65L396.55 241.65L396.55 240.75L397.35 240.75zM396.80 241.20l1.00 -1.00l1.00 1.00l-1.00 1.00zM399.25 239.95L400.15 239.95L400.15 240.75L400.95 240.75L400.95 241.65L400.15 241.65L400.15 242.45L399.25 242.45L399.25 241.65L398.45 241.65L398.45 240.75L399.25 240.75zM398.70 241.20l1.00 -1.00l1.00 1.00l-1.00 1.00zM403.55 247.65L404.45 247.65L404.45 248.45L405.25 248.45L405.25 249.35L404.45 249.35L404.45 250.15L403.55 250.15L403.55 249.35L402.75 249.35L402.75 248.45L403.55 248.45zM403.00 248.90l1.00 -1.00l1.00 1.00l-1.00 1.00zM405.55 247.65L406.45 247.65L406.45 248.45L407.25 248.45L407.25 249.35L406.45 249.35L406.45 250.15L405.55 250.15L405.55 249.35L404.75 249.35L404.75 248.45L405.55 248.45zM405.00 248.90l1.00 -1.00l1.00 1.00l-1.00 1.00zM407.55 247.65L408.45 247.65L408.45 248.45L409.25 248.45L409.25 249.35L408.45 249.35L408.45 250.15L407.55 250.15L407.55 249.35L406.75 249.35L406.75 248.45L407.55 248.45zM407.00 248.90l1.00 -1.00l1.00 1.00l-1.00 1.00zM412.55 247.65L413.45 247.65L413.45 248.45L414.25 248.45L414.25 249.35L413.45 249.35L413.45 250.15L412.55 250.15L412.55 249.35L411.75 249.35L411.75 248.45L412.55 248.45zM412.00 248.90l1.00 -1.00l1.00 1.00l-1.00 1.00zM415.55 247.65L416.45 247.65L416.45 248.45L417.25 248.45L417.25 249.35L416.45 249.35L416.45 250.15L415.55 250.15L415.55 249.35L414.75 249.35L414.75 248.45L415.55 248.45zM415.00 248.90l1.00 -1.00l1.00 1.00l-1.00 1.00zM417.55 247.65L418.45 247.65L418.45 248.45L419.25 248.45L419.25 249.35L418.45 249.35L418.45 250.15L417.55 250.15L417.55 249.35L416.75 249.35L416.75 248.45L417.55 248.45zM417.00 248.90l1.00 -1.00l1.00 1.00l-1.00 1.00zM420.55 247.65L421.45 247.65L421.45 248.45L422.25 248.45L422.25 249.35L421.45 249.35L421.45 250.15L420.55 250.15L420.55 249.35L419.75 249.35L419.75 248.45L420.55 248.45zM420.00 248.90l1.00 -1.00l1.00 1.00l-1.00 1.00zM425.55 247.65L426.45 247.65L426.45 248.45L427.25 248.45L427.25 249.35L426.45 249.35L426.45 250.15L425.55 250.15L425.55 249.35L424.75 249.35L424.75 248.45L425.55 248.45zM425.00 248.90l1.00 -1.00l1.00 1.00l-1.00 1.00zM432.05 264.15L432.95 264.15L432.95 264.95L433.75 264.95L433.75 265.85L432.95 265.85L432.95 266.65L432.05 266.65L432.05 265.85L431.25 265.85L431.25 264.95L432.05 264.95zM431.50 265.40l1.00 -1.00l1.00 1.00l-1.00 1.00zM435.55 264.15L436.45 264.15L436.45 264.95L437.25 264.95L437.25 265.85L436.45 265.85L436.45 266.65L435.55 266.65L435.55 265.85L434.75 265.85L434.75 264.95L435.55 264.95zM435.00 265.40l1.00 -1.00l1.00 1.00l-1.00 1.00zM437.05 264.15L437.95 264.15L437.95 264.95L438.75 264.95L438.75 265.85L437.95 265.85L437.95 266.65L437.05 266.65L437.05 265.85L436.25 265.85L436.25 264.95L437.05 264.95zM436.50 265.40l1.00 -1.00l1.00 1.00l-1.00 1.00zM443.25 264.15L444.15 264.15L444.15 264.95L444.95 264.95L444.95 265.85L444.15 265.85L444.15 266.65L443.25 266.65L443.25 265.85L442.45 265.85L442.45 264.95L443.25 264.95zM442.70 265.40l1.00 -1.00l1.00 1.00l-1.00 1.00zM462.95 264.15L463.85 264.15L463.85 264.95L464.65 264.95L464.65 265.85L463.85 265.85L463.85 266.65L462.95 266.65L462.95 265.85L462.15 265.85L462.15 264.95L462.95 264.95zM462.40 265.40l1.00 -1.00l1.00 1.00l-1.00 1.00zM476.05 264.15L476.95 264.15L476.95 264.95L477.75 264.95L477.75 265.85L476.95 265.85L476.95 266.65L476.05 266.65L476.05 265.85L475.25 265.85L475.25 264.95L476.05 264.95zM475.50 265.40l1.00 -1.00l1.00 1.00l-1.00 1.00z" fill="#fb9410" stroke="none"/>
</svg></body></html>
